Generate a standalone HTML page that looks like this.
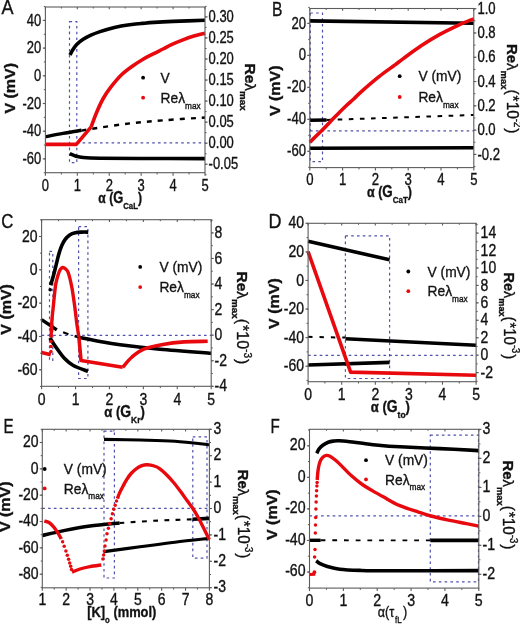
<!DOCTYPE html>
<html><head><meta charset="utf-8"><title>Figure</title>
<style>html,body{margin:0;padding:0;background:#fff;}body{width:520px;height:624px;overflow:hidden;}svg{display:block;} text{stroke:#111;stroke-width:0.35px;paint-order:stroke;}</style>
</head><body>
<svg width="520" height="624" viewBox="0 0 520 624" font-family="'Liberation Sans', Arial, sans-serif">
<rect width="520" height="624" fill="#fff"/>
<rect x="69.5" y="21.6" width="7.3" height="141.1" fill="none" stroke="#5050aa" stroke-width="1.2" stroke-dasharray="2.6 3.2"/>
<line x1="76.8" y1="142.9" x2="205" y2="142.9" stroke="#5050aa" stroke-width="1.2" stroke-dasharray="2.6 3.2"/>
<path d="M45.4,136.7 C48.33,136.15 56.98,134.47 63,133.4 C69.02,132.33 78.42,130.82 81.5,130.3" fill="none" stroke="#000" stroke-width="3.4" stroke-linecap="butt" stroke-linejoin="round"/>
<path d="M81.5,130.6 C84.1,130.17 89.02,129.2 97.1,128 C105.18,126.8 118.68,124.7 130,123.4 C141.32,122.1 152.5,121.18 165,120.2 C177.5,119.22 198.33,117.95 205,117.5" fill="none" stroke="#000" stroke-width="2.4" stroke-dasharray="5 6" stroke-linecap="butt" stroke-linejoin="round"/>
<path d="M70,55 C70.47,54.13 71.68,51.57 72.8,49.8 C73.92,48.03 74.97,46.15 76.7,44.4 C78.43,42.65 80.83,40.85 83.2,39.3 C85.57,37.75 88.1,36.38 90.9,35.1 C93.7,33.82 96.72,32.72 100,31.6 C103.28,30.48 107.07,29.32 110.6,28.4 C114.13,27.48 117.68,26.75 121.2,26.1 C124.72,25.45 128.18,24.95 131.7,24.5 C135.22,24.05 138.58,23.75 142.3,23.4 C146.02,23.05 148.87,22.73 154,22.4 C159.13,22.07 164.6,21.77 173.1,21.4 C181.6,21.03 199.68,20.4 205,20.2" fill="none" stroke="#000" stroke-width="3.6" stroke-linecap="butt" stroke-linejoin="round"/>
<path d="M69.8,153.7 C70.83,154.12 73.75,155.57 76,156.2 C78.25,156.83 79.3,157.17 83.3,157.5 C87.3,157.83 90.55,158.03 100,158.2 C109.45,158.37 122.5,158.43 140,158.5 C157.5,158.57 194.17,158.58 205,158.6" fill="none" stroke="#000" stroke-width="3.6" stroke-linecap="butt" stroke-linejoin="round"/>
<path d="M45.4,144.4 L76.3,144.4 L91.2,126.8" fill="none" stroke="#e8090f" stroke-width="3.6" stroke-linecap="butt" stroke-linejoin="round"/>
<path d="M91.2,126.8 C92.08,124.45 94.5,117.42 96.5,112.7 C98.5,107.98 100.82,102.75 103.2,98.5 C105.58,94.25 107.75,91.15 110.8,87.2 C113.85,83.25 117.92,78.3 121.5,74.8 C125.08,71.3 128.7,68.8 132.3,66.2 C135.9,63.6 139.52,61.3 143.1,59.2 C146.68,57.1 150.48,55.3 153.8,53.6 C157.12,51.9 160.05,50.5 163,49 C165.95,47.5 168.28,46.08 171.5,44.6 C174.72,43.12 178.7,41.48 182.3,40.1 C185.9,38.72 189.32,37.43 193.1,36.3 C196.88,35.17 203.02,33.8 205,33.3" fill="none" stroke="#e8090f" stroke-width="3.6" stroke-linecap="butt" stroke-linejoin="round"/>
<rect x="45.4" y="7" width="159.6" height="165.7" fill="none" stroke="#5c5c5c" stroke-width="1.1"/>
<line x1="45.4" y1="172.7" x2="45.4" y2="175.7" stroke="#5c5c5c" stroke-width="1.1" stroke-linecap="butt"/>
<line x1="45.4" y1="7" x2="45.4" y2="9.2" stroke="#5c5c5c" stroke-width="1.1" stroke-linecap="butt"/>
<line x1="61.36" y1="172.7" x2="61.36" y2="174.5" stroke="#5c5c5c" stroke-width="1" stroke-linecap="butt"/>
<line x1="61.36" y1="7" x2="61.36" y2="8.5" stroke="#5c5c5c" stroke-width="1" stroke-linecap="butt"/>
<line x1="77.32" y1="172.7" x2="77.32" y2="175.7" stroke="#5c5c5c" stroke-width="1.1" stroke-linecap="butt"/>
<line x1="77.32" y1="7" x2="77.32" y2="9.2" stroke="#5c5c5c" stroke-width="1.1" stroke-linecap="butt"/>
<line x1="93.28" y1="172.7" x2="93.28" y2="174.5" stroke="#5c5c5c" stroke-width="1" stroke-linecap="butt"/>
<line x1="93.28" y1="7" x2="93.28" y2="8.5" stroke="#5c5c5c" stroke-width="1" stroke-linecap="butt"/>
<line x1="109.24" y1="172.7" x2="109.24" y2="175.7" stroke="#5c5c5c" stroke-width="1.1" stroke-linecap="butt"/>
<line x1="109.24" y1="7" x2="109.24" y2="9.2" stroke="#5c5c5c" stroke-width="1.1" stroke-linecap="butt"/>
<line x1="125.2" y1="172.7" x2="125.2" y2="174.5" stroke="#5c5c5c" stroke-width="1" stroke-linecap="butt"/>
<line x1="125.2" y1="7" x2="125.2" y2="8.5" stroke="#5c5c5c" stroke-width="1" stroke-linecap="butt"/>
<line x1="141.16" y1="172.7" x2="141.16" y2="175.7" stroke="#5c5c5c" stroke-width="1.1" stroke-linecap="butt"/>
<line x1="141.16" y1="7" x2="141.16" y2="9.2" stroke="#5c5c5c" stroke-width="1.1" stroke-linecap="butt"/>
<line x1="157.12" y1="172.7" x2="157.12" y2="174.5" stroke="#5c5c5c" stroke-width="1" stroke-linecap="butt"/>
<line x1="157.12" y1="7" x2="157.12" y2="8.5" stroke="#5c5c5c" stroke-width="1" stroke-linecap="butt"/>
<line x1="173.08" y1="172.7" x2="173.08" y2="175.7" stroke="#5c5c5c" stroke-width="1.1" stroke-linecap="butt"/>
<line x1="173.08" y1="7" x2="173.08" y2="9.2" stroke="#5c5c5c" stroke-width="1.1" stroke-linecap="butt"/>
<line x1="189.04" y1="172.7" x2="189.04" y2="174.5" stroke="#5c5c5c" stroke-width="1" stroke-linecap="butt"/>
<line x1="189.04" y1="7" x2="189.04" y2="8.5" stroke="#5c5c5c" stroke-width="1" stroke-linecap="butt"/>
<line x1="205" y1="172.7" x2="205" y2="175.7" stroke="#5c5c5c" stroke-width="1.1" stroke-linecap="butt"/>
<line x1="205" y1="7" x2="205" y2="9.2" stroke="#5c5c5c" stroke-width="1.1" stroke-linecap="butt"/>
<line x1="43.8" y1="172.75" x2="45.4" y2="172.75" stroke="#5c5c5c" stroke-width="1" stroke-linecap="butt"/>
<line x1="43.8" y1="158.9" x2="45.4" y2="158.9" stroke="#5c5c5c" stroke-width="1" stroke-linecap="butt"/>
<line x1="43.8" y1="145.05" x2="45.4" y2="145.05" stroke="#5c5c5c" stroke-width="1" stroke-linecap="butt"/>
<line x1="43.8" y1="131.2" x2="45.4" y2="131.2" stroke="#5c5c5c" stroke-width="1" stroke-linecap="butt"/>
<line x1="43.8" y1="117.35" x2="45.4" y2="117.35" stroke="#5c5c5c" stroke-width="1" stroke-linecap="butt"/>
<line x1="43.8" y1="103.5" x2="45.4" y2="103.5" stroke="#5c5c5c" stroke-width="1" stroke-linecap="butt"/>
<line x1="43.8" y1="89.65" x2="45.4" y2="89.65" stroke="#5c5c5c" stroke-width="1" stroke-linecap="butt"/>
<line x1="43.8" y1="75.8" x2="45.4" y2="75.8" stroke="#5c5c5c" stroke-width="1" stroke-linecap="butt"/>
<line x1="43.8" y1="61.95" x2="45.4" y2="61.95" stroke="#5c5c5c" stroke-width="1" stroke-linecap="butt"/>
<line x1="43.8" y1="48.1" x2="45.4" y2="48.1" stroke="#5c5c5c" stroke-width="1" stroke-linecap="butt"/>
<line x1="43.8" y1="34.25" x2="45.4" y2="34.25" stroke="#5c5c5c" stroke-width="1" stroke-linecap="butt"/>
<line x1="43.8" y1="20.4" x2="45.4" y2="20.4" stroke="#5c5c5c" stroke-width="1" stroke-linecap="butt"/>
<line x1="43.8" y1="6.55" x2="45.4" y2="6.55" stroke="#5c5c5c" stroke-width="1" stroke-linecap="butt"/>
<line x1="42.8" y1="158.9" x2="45.4" y2="158.9" stroke="#5c5c5c" stroke-width="1.1" stroke-linecap="butt"/>
<line x1="42.8" y1="131.2" x2="45.4" y2="131.2" stroke="#5c5c5c" stroke-width="1.1" stroke-linecap="butt"/>
<line x1="42.8" y1="103.5" x2="45.4" y2="103.5" stroke="#5c5c5c" stroke-width="1.1" stroke-linecap="butt"/>
<line x1="42.8" y1="75.8" x2="45.4" y2="75.8" stroke="#5c5c5c" stroke-width="1.1" stroke-linecap="butt"/>
<line x1="42.8" y1="48.1" x2="45.4" y2="48.1" stroke="#5c5c5c" stroke-width="1.1" stroke-linecap="butt"/>
<line x1="42.8" y1="20.4" x2="45.4" y2="20.4" stroke="#5c5c5c" stroke-width="1.1" stroke-linecap="butt"/>
<line x1="205" y1="174.77" x2="206.6" y2="174.77" stroke="#5c5c5c" stroke-width="1" stroke-linecap="butt"/>
<line x1="205" y1="164.25" x2="206.6" y2="164.25" stroke="#5c5c5c" stroke-width="1" stroke-linecap="butt"/>
<line x1="205" y1="153.72" x2="206.6" y2="153.72" stroke="#5c5c5c" stroke-width="1" stroke-linecap="butt"/>
<line x1="205" y1="143.2" x2="206.6" y2="143.2" stroke="#5c5c5c" stroke-width="1" stroke-linecap="butt"/>
<line x1="205" y1="132.67" x2="206.6" y2="132.67" stroke="#5c5c5c" stroke-width="1" stroke-linecap="butt"/>
<line x1="205" y1="122.15" x2="206.6" y2="122.15" stroke="#5c5c5c" stroke-width="1" stroke-linecap="butt"/>
<line x1="205" y1="111.62" x2="206.6" y2="111.62" stroke="#5c5c5c" stroke-width="1" stroke-linecap="butt"/>
<line x1="205" y1="101.1" x2="206.6" y2="101.1" stroke="#5c5c5c" stroke-width="1" stroke-linecap="butt"/>
<line x1="205" y1="90.57" x2="206.6" y2="90.57" stroke="#5c5c5c" stroke-width="1" stroke-linecap="butt"/>
<line x1="205" y1="80.05" x2="206.6" y2="80.05" stroke="#5c5c5c" stroke-width="1" stroke-linecap="butt"/>
<line x1="205" y1="69.53" x2="206.6" y2="69.53" stroke="#5c5c5c" stroke-width="1" stroke-linecap="butt"/>
<line x1="205" y1="59" x2="206.6" y2="59" stroke="#5c5c5c" stroke-width="1" stroke-linecap="butt"/>
<line x1="205" y1="48.47" x2="206.6" y2="48.47" stroke="#5c5c5c" stroke-width="1" stroke-linecap="butt"/>
<line x1="205" y1="37.95" x2="206.6" y2="37.95" stroke="#5c5c5c" stroke-width="1" stroke-linecap="butt"/>
<line x1="205" y1="27.42" x2="206.6" y2="27.42" stroke="#5c5c5c" stroke-width="1" stroke-linecap="butt"/>
<line x1="205" y1="16.9" x2="206.6" y2="16.9" stroke="#5c5c5c" stroke-width="1" stroke-linecap="butt"/>
<line x1="205" y1="6.38" x2="206.6" y2="6.38" stroke="#5c5c5c" stroke-width="1" stroke-linecap="butt"/>
<line x1="205" y1="164.25" x2="207.6" y2="164.25" stroke="#5c5c5c" stroke-width="1.1" stroke-linecap="butt"/>
<line x1="205" y1="143.2" x2="207.6" y2="143.2" stroke="#5c5c5c" stroke-width="1.1" stroke-linecap="butt"/>
<line x1="205" y1="122.15" x2="207.6" y2="122.15" stroke="#5c5c5c" stroke-width="1.1" stroke-linecap="butt"/>
<line x1="205" y1="101.1" x2="207.6" y2="101.1" stroke="#5c5c5c" stroke-width="1.1" stroke-linecap="butt"/>
<line x1="205" y1="80.05" x2="207.6" y2="80.05" stroke="#5c5c5c" stroke-width="1.1" stroke-linecap="butt"/>
<line x1="205" y1="59" x2="207.6" y2="59" stroke="#5c5c5c" stroke-width="1.1" stroke-linecap="butt"/>
<line x1="205" y1="37.95" x2="207.6" y2="37.95" stroke="#5c5c5c" stroke-width="1.1" stroke-linecap="butt"/>
<line x1="205" y1="16.9" x2="207.6" y2="16.9" stroke="#5c5c5c" stroke-width="1.1" stroke-linecap="butt"/>
<text transform="translate(41.2,164) scale(0.81,1)" font-size="16" text-anchor="end" font-weight="normal" fill="#111">-60</text>
<text transform="translate(41.2,136.3) scale(0.81,1)" font-size="16" text-anchor="end" font-weight="normal" fill="#111">-40</text>
<text transform="translate(41.2,108.6) scale(0.81,1)" font-size="16" text-anchor="end" font-weight="normal" fill="#111">-20</text>
<text transform="translate(41.2,80.9) scale(0.81,1)" font-size="16" text-anchor="end" font-weight="normal" fill="#111">0</text>
<text transform="translate(41.2,53.2) scale(0.81,1)" font-size="16" text-anchor="end" font-weight="normal" fill="#111">20</text>
<text transform="translate(41.2,25.5) scale(0.81,1)" font-size="16" text-anchor="end" font-weight="normal" fill="#111">40</text>
<text transform="translate(208.6,169.35) scale(0.81,1)" font-size="16" text-anchor="start" font-weight="normal" fill="#111">-0.05</text>
<text transform="translate(208.6,148.3) scale(0.81,1)" font-size="16" text-anchor="start" font-weight="normal" fill="#111">0.00</text>
<text transform="translate(208.6,127.25) scale(0.81,1)" font-size="16" text-anchor="start" font-weight="normal" fill="#111">0.05</text>
<text transform="translate(208.6,106.2) scale(0.81,1)" font-size="16" text-anchor="start" font-weight="normal" fill="#111">0.10</text>
<text transform="translate(208.6,85.15) scale(0.81,1)" font-size="16" text-anchor="start" font-weight="normal" fill="#111">0.15</text>
<text transform="translate(208.6,64.1) scale(0.81,1)" font-size="16" text-anchor="start" font-weight="normal" fill="#111">0.20</text>
<text transform="translate(208.6,43.05) scale(0.81,1)" font-size="16" text-anchor="start" font-weight="normal" fill="#111">0.25</text>
<text transform="translate(208.6,22) scale(0.81,1)" font-size="16" text-anchor="start" font-weight="normal" fill="#111">0.30</text>
<text transform="translate(45.4,190.6) scale(0.81,1)" font-size="16" text-anchor="middle" font-weight="normal" fill="#111">0</text>
<text transform="translate(77.32,190.6) scale(0.81,1)" font-size="16" text-anchor="middle" font-weight="normal" fill="#111">1</text>
<text transform="translate(109.24,190.6) scale(0.81,1)" font-size="16" text-anchor="middle" font-weight="normal" fill="#111">2</text>
<text transform="translate(141.16,190.6) scale(0.81,1)" font-size="16" text-anchor="middle" font-weight="normal" fill="#111">3</text>
<text transform="translate(173.08,190.6) scale(0.81,1)" font-size="16" text-anchor="middle" font-weight="normal" fill="#111">4</text>
<text transform="translate(205,190.6) scale(0.81,1)" font-size="16" text-anchor="middle" font-weight="normal" fill="#111">5</text>
<text transform="translate(1.5,14) scale(0.9,1)" font-size="20" text-anchor="start" font-weight="normal" fill="#111">A</text>
<text transform="translate(15,88.3) scale(0.93,1) rotate(-90)" font-size="16" font-weight="bold" text-anchor="middle" fill="#111">V (mV)</text>
<text transform="translate(245,63.5) scale(1.0,1.0) rotate(90)" font-size="15.5" fill="#111"><tspan font-weight="bold">Re</tspan>&#955;<tspan font-size="9.8" font-weight="bold" dy="5.2">max</tspan></text>
<circle cx="143.1" cy="77.7" r="1.9" fill="#000"/>
<circle cx="143.1" cy="97.7" r="1.9" fill="#e8090f"/>
<text transform="translate(160.5,82.9) scale(0.92,1)" font-size="15" text-anchor="start" font-weight="normal" fill="#111">V</text>
<text transform="translate(160.5,102.9) scale(0.92,1)" font-size="15" fill="#111">Re&#955;<tspan font-size="9" dy="5.6">max</tspan></text>
<text transform="translate(98.3,203.4) scale(0.81,1)" font-size="15" font-weight="bold" fill="#111">&#945; (<tspan font-size="16">G</tspan><tspan font-size="9.6" dy="5.8">CaL</tspan><tspan dy="-5.8">)</tspan></text>
<rect x="310.3" y="13" width="12.2" height="148.6" fill="none" stroke="#5050aa" stroke-width="1.2" stroke-dasharray="2.6 3.2"/>
<line x1="310" y1="130.9" x2="473.8" y2="130.9" stroke="#5050aa" stroke-width="1.2" stroke-dasharray="2.6 3.2"/>
<path d="M309.8,120.2 L326.6,120" fill="none" stroke="#000" stroke-width="3.4" stroke-linecap="butt" stroke-linejoin="round"/>
<path d="M326.6,120 L473.8,115" fill="none" stroke="#000" stroke-width="2.0" stroke-dasharray="4.6 6.5" stroke-linecap="butt" stroke-linejoin="round"/>
<path d="M309.8,20.9 L473.8,23.3" fill="none" stroke="#000" stroke-width="3.6" stroke-linecap="butt" stroke-linejoin="round"/>
<path d="M309.8,148.2 L473.8,147.8" fill="none" stroke="#000" stroke-width="3.6" stroke-linecap="butt" stroke-linejoin="round"/>
<path d="M309.8,142.2 C311.88,140.18 318.3,134.12 322.3,130.1 C326.3,126.08 329.95,122.03 333.8,118.1 C337.65,114.17 342.03,109.72 345.4,106.5 C348.77,103.28 351.38,101.25 354,98.8 C356.62,96.35 356.93,95.5 361.1,91.8 C365.27,88.1 373.35,81.08 379,76.6 C384.65,72.12 390.95,67.9 395,64.9 C399.05,61.9 398.88,61.82 403.3,58.6 C407.72,55.38 415.42,49.63 421.5,45.6 C427.58,41.57 433.7,37.78 439.8,34.4 C445.9,31.02 452.43,27.9 458.1,25.3 C463.77,22.7 471.18,19.88 473.8,18.8" fill="none" stroke="#e8090f" stroke-width="3.6" stroke-linecap="butt" stroke-linejoin="round"/>
<rect x="309.8" y="8.5" width="164" height="159.1" fill="none" stroke="#5c5c5c" stroke-width="1.1"/>
<line x1="309.8" y1="167.6" x2="309.8" y2="170.6" stroke="#5c5c5c" stroke-width="1.1" stroke-linecap="butt"/>
<line x1="309.8" y1="8.5" x2="309.8" y2="10.7" stroke="#5c5c5c" stroke-width="1.1" stroke-linecap="butt"/>
<line x1="326.2" y1="167.6" x2="326.2" y2="169.4" stroke="#5c5c5c" stroke-width="1" stroke-linecap="butt"/>
<line x1="326.2" y1="8.5" x2="326.2" y2="10" stroke="#5c5c5c" stroke-width="1" stroke-linecap="butt"/>
<line x1="342.6" y1="167.6" x2="342.6" y2="170.6" stroke="#5c5c5c" stroke-width="1.1" stroke-linecap="butt"/>
<line x1="342.6" y1="8.5" x2="342.6" y2="10.7" stroke="#5c5c5c" stroke-width="1.1" stroke-linecap="butt"/>
<line x1="359" y1="167.6" x2="359" y2="169.4" stroke="#5c5c5c" stroke-width="1" stroke-linecap="butt"/>
<line x1="359" y1="8.5" x2="359" y2="10" stroke="#5c5c5c" stroke-width="1" stroke-linecap="butt"/>
<line x1="375.4" y1="167.6" x2="375.4" y2="170.6" stroke="#5c5c5c" stroke-width="1.1" stroke-linecap="butt"/>
<line x1="375.4" y1="8.5" x2="375.4" y2="10.7" stroke="#5c5c5c" stroke-width="1.1" stroke-linecap="butt"/>
<line x1="391.8" y1="167.6" x2="391.8" y2="169.4" stroke="#5c5c5c" stroke-width="1" stroke-linecap="butt"/>
<line x1="391.8" y1="8.5" x2="391.8" y2="10" stroke="#5c5c5c" stroke-width="1" stroke-linecap="butt"/>
<line x1="408.2" y1="167.6" x2="408.2" y2="170.6" stroke="#5c5c5c" stroke-width="1.1" stroke-linecap="butt"/>
<line x1="408.2" y1="8.5" x2="408.2" y2="10.7" stroke="#5c5c5c" stroke-width="1.1" stroke-linecap="butt"/>
<line x1="424.6" y1="167.6" x2="424.6" y2="169.4" stroke="#5c5c5c" stroke-width="1" stroke-linecap="butt"/>
<line x1="424.6" y1="8.5" x2="424.6" y2="10" stroke="#5c5c5c" stroke-width="1" stroke-linecap="butt"/>
<line x1="441" y1="167.6" x2="441" y2="170.6" stroke="#5c5c5c" stroke-width="1.1" stroke-linecap="butt"/>
<line x1="441" y1="8.5" x2="441" y2="10.7" stroke="#5c5c5c" stroke-width="1.1" stroke-linecap="butt"/>
<line x1="457.4" y1="167.6" x2="457.4" y2="169.4" stroke="#5c5c5c" stroke-width="1" stroke-linecap="butt"/>
<line x1="457.4" y1="8.5" x2="457.4" y2="10" stroke="#5c5c5c" stroke-width="1" stroke-linecap="butt"/>
<line x1="473.8" y1="167.6" x2="473.8" y2="170.6" stroke="#5c5c5c" stroke-width="1.1" stroke-linecap="butt"/>
<line x1="473.8" y1="8.5" x2="473.8" y2="10.7" stroke="#5c5c5c" stroke-width="1.1" stroke-linecap="butt"/>
<line x1="308.2" y1="167.29" x2="309.8" y2="167.29" stroke="#5c5c5c" stroke-width="1" stroke-linecap="butt"/>
<line x1="308.2" y1="151.3" x2="309.8" y2="151.3" stroke="#5c5c5c" stroke-width="1" stroke-linecap="butt"/>
<line x1="308.2" y1="135.31" x2="309.8" y2="135.31" stroke="#5c5c5c" stroke-width="1" stroke-linecap="butt"/>
<line x1="308.2" y1="119.33" x2="309.8" y2="119.33" stroke="#5c5c5c" stroke-width="1" stroke-linecap="butt"/>
<line x1="308.2" y1="103.34" x2="309.8" y2="103.34" stroke="#5c5c5c" stroke-width="1" stroke-linecap="butt"/>
<line x1="308.2" y1="87.35" x2="309.8" y2="87.35" stroke="#5c5c5c" stroke-width="1" stroke-linecap="butt"/>
<line x1="308.2" y1="71.36" x2="309.8" y2="71.36" stroke="#5c5c5c" stroke-width="1" stroke-linecap="butt"/>
<line x1="308.2" y1="55.38" x2="309.8" y2="55.38" stroke="#5c5c5c" stroke-width="1" stroke-linecap="butt"/>
<line x1="308.2" y1="39.39" x2="309.8" y2="39.39" stroke="#5c5c5c" stroke-width="1" stroke-linecap="butt"/>
<line x1="308.2" y1="23.4" x2="309.8" y2="23.4" stroke="#5c5c5c" stroke-width="1" stroke-linecap="butt"/>
<line x1="308.2" y1="7.41" x2="309.8" y2="7.41" stroke="#5c5c5c" stroke-width="1" stroke-linecap="butt"/>
<line x1="307.2" y1="151.3" x2="309.8" y2="151.3" stroke="#5c5c5c" stroke-width="1.1" stroke-linecap="butt"/>
<line x1="307.2" y1="119.33" x2="309.8" y2="119.33" stroke="#5c5c5c" stroke-width="1.1" stroke-linecap="butt"/>
<line x1="307.2" y1="87.35" x2="309.8" y2="87.35" stroke="#5c5c5c" stroke-width="1.1" stroke-linecap="butt"/>
<line x1="307.2" y1="55.38" x2="309.8" y2="55.38" stroke="#5c5c5c" stroke-width="1.1" stroke-linecap="butt"/>
<line x1="307.2" y1="23.4" x2="309.8" y2="23.4" stroke="#5c5c5c" stroke-width="1.1" stroke-linecap="butt"/>
<line x1="473.8" y1="166.54" x2="475.4" y2="166.54" stroke="#5c5c5c" stroke-width="1" stroke-linecap="butt"/>
<line x1="473.8" y1="154.4" x2="475.4" y2="154.4" stroke="#5c5c5c" stroke-width="1" stroke-linecap="butt"/>
<line x1="473.8" y1="142.26" x2="475.4" y2="142.26" stroke="#5c5c5c" stroke-width="1" stroke-linecap="butt"/>
<line x1="473.8" y1="130.12" x2="475.4" y2="130.12" stroke="#5c5c5c" stroke-width="1" stroke-linecap="butt"/>
<line x1="473.8" y1="117.98" x2="475.4" y2="117.98" stroke="#5c5c5c" stroke-width="1" stroke-linecap="butt"/>
<line x1="473.8" y1="105.83" x2="475.4" y2="105.83" stroke="#5c5c5c" stroke-width="1" stroke-linecap="butt"/>
<line x1="473.8" y1="93.69" x2="475.4" y2="93.69" stroke="#5c5c5c" stroke-width="1" stroke-linecap="butt"/>
<line x1="473.8" y1="81.55" x2="475.4" y2="81.55" stroke="#5c5c5c" stroke-width="1" stroke-linecap="butt"/>
<line x1="473.8" y1="69.41" x2="475.4" y2="69.41" stroke="#5c5c5c" stroke-width="1" stroke-linecap="butt"/>
<line x1="473.8" y1="57.27" x2="475.4" y2="57.27" stroke="#5c5c5c" stroke-width="1" stroke-linecap="butt"/>
<line x1="473.8" y1="45.13" x2="475.4" y2="45.13" stroke="#5c5c5c" stroke-width="1" stroke-linecap="butt"/>
<line x1="473.8" y1="32.98" x2="475.4" y2="32.98" stroke="#5c5c5c" stroke-width="1" stroke-linecap="butt"/>
<line x1="473.8" y1="20.84" x2="475.4" y2="20.84" stroke="#5c5c5c" stroke-width="1" stroke-linecap="butt"/>
<line x1="473.8" y1="8.7" x2="475.4" y2="8.7" stroke="#5c5c5c" stroke-width="1" stroke-linecap="butt"/>
<line x1="473.8" y1="154.4" x2="476.4" y2="154.4" stroke="#5c5c5c" stroke-width="1.1" stroke-linecap="butt"/>
<line x1="473.8" y1="130.12" x2="476.4" y2="130.12" stroke="#5c5c5c" stroke-width="1.1" stroke-linecap="butt"/>
<line x1="473.8" y1="105.83" x2="476.4" y2="105.83" stroke="#5c5c5c" stroke-width="1.1" stroke-linecap="butt"/>
<line x1="473.8" y1="81.55" x2="476.4" y2="81.55" stroke="#5c5c5c" stroke-width="1.1" stroke-linecap="butt"/>
<line x1="473.8" y1="57.27" x2="476.4" y2="57.27" stroke="#5c5c5c" stroke-width="1.1" stroke-linecap="butt"/>
<line x1="473.8" y1="32.98" x2="476.4" y2="32.98" stroke="#5c5c5c" stroke-width="1.1" stroke-linecap="butt"/>
<line x1="473.8" y1="8.7" x2="476.4" y2="8.7" stroke="#5c5c5c" stroke-width="1.1" stroke-linecap="butt"/>
<text transform="translate(306,156.4) scale(0.82,1)" font-size="16" text-anchor="end" font-weight="normal" fill="#111">-60</text>
<text transform="translate(306,124.43) scale(0.82,1)" font-size="16" text-anchor="end" font-weight="normal" fill="#111">-40</text>
<text transform="translate(306,92.45) scale(0.82,1)" font-size="16" text-anchor="end" font-weight="normal" fill="#111">-20</text>
<text transform="translate(306,60.48) scale(0.82,1)" font-size="16" text-anchor="end" font-weight="normal" fill="#111">0</text>
<text transform="translate(306,28.5) scale(0.82,1)" font-size="16" text-anchor="end" font-weight="normal" fill="#111">20</text>
<text transform="translate(477.4,159.5) scale(0.82,1)" font-size="16" text-anchor="start" font-weight="normal" fill="#111">-0.2</text>
<text transform="translate(477.4,135.22) scale(0.82,1)" font-size="16" text-anchor="start" font-weight="normal" fill="#111">0.0</text>
<text transform="translate(477.4,110.93) scale(0.82,1)" font-size="16" text-anchor="start" font-weight="normal" fill="#111">0.2</text>
<text transform="translate(477.4,86.65) scale(0.82,1)" font-size="16" text-anchor="start" font-weight="normal" fill="#111">0.4</text>
<text transform="translate(477.4,62.37) scale(0.82,1)" font-size="16" text-anchor="start" font-weight="normal" fill="#111">0.6</text>
<text transform="translate(477.4,38.08) scale(0.82,1)" font-size="16" text-anchor="start" font-weight="normal" fill="#111">0.8</text>
<text transform="translate(477.4,13.8) scale(0.82,1)" font-size="16" text-anchor="start" font-weight="normal" fill="#111">1.0</text>
<text transform="translate(309.8,184.6) scale(0.82,1)" font-size="16" text-anchor="middle" font-weight="normal" fill="#111">0</text>
<text transform="translate(342.6,184.6) scale(0.82,1)" font-size="16" text-anchor="middle" font-weight="normal" fill="#111">1</text>
<text transform="translate(375.4,184.6) scale(0.82,1)" font-size="16" text-anchor="middle" font-weight="normal" fill="#111">2</text>
<text transform="translate(408.2,184.6) scale(0.82,1)" font-size="16" text-anchor="middle" font-weight="normal" fill="#111">3</text>
<text transform="translate(441,184.6) scale(0.82,1)" font-size="16" text-anchor="middle" font-weight="normal" fill="#111">4</text>
<text transform="translate(473.8,184.6) scale(0.82,1)" font-size="16" text-anchor="middle" font-weight="normal" fill="#111">5</text>
<text transform="translate(272,15.6) scale(0.78,1)" font-size="20" text-anchor="start" font-weight="normal" fill="#111">B</text>
<text transform="translate(280.2,90.8) scale(0.93,1) rotate(-90)" font-size="16" font-weight="bold" text-anchor="middle" fill="#111">V (mV)</text>
<text transform="translate(506.6,44) scale(1.0,0.965) rotate(90)" font-size="15.5" fill="#111"><tspan font-weight="bold">Re</tspan>&#955;<tspan font-size="9.8" font-weight="bold" dy="5.2">max</tspan><tspan font-size="16" dy="-5.2">(<tspan dx="1">*</tspan>10</tspan><tspan font-size="10" dy="-7.2">-2</tspan><tspan font-size="16" dx="1" dy="7.2">)</tspan></text>
<circle cx="399.7" cy="76.2" r="1.9" fill="#000"/>
<circle cx="399.7" cy="97" r="1.9" fill="#e8090f"/>
<text transform="translate(418.4,81.4) scale(0.92,1)" font-size="15" text-anchor="start" font-weight="normal" fill="#111">V (mV)</text>
<text transform="translate(418.4,102.2) scale(0.92,1)" font-size="15" fill="#111">Re&#955;<tspan font-size="9" dy="5.6">max</tspan></text>
<text transform="translate(367,196.8) scale(0.835,1)" font-size="15" font-weight="bold" fill="#111">&#945; (<tspan font-size="16">G</tspan><tspan font-size="9.6" dy="5.8">CaT</tspan><tspan dy="-5.8">)</tspan></text>
<rect x="49.5" y="251.4" width="3.3" height="108.9" fill="none" stroke="#5050aa" stroke-width="1.2" stroke-dasharray="2.6 3.2"/>
<rect x="78.6" y="226.7" width="9.3" height="151.8" fill="none" stroke="#5050aa" stroke-width="1.2" stroke-dasharray="2.6 3.2"/>
<line x1="41.6" y1="335.4" x2="211.2" y2="335.4" stroke="#5050aa" stroke-width="1.2" stroke-dasharray="2.6 3.2"/>
<path d="M41.6,319.6 L56.8,329.9" fill="none" stroke="#000" stroke-width="3.4" stroke-linecap="butt" stroke-linejoin="round"/>
<path d="M63.1,332.3 L68.4,334.2" fill="none" stroke="#000" stroke-width="2.2" stroke-linecap="butt" stroke-linejoin="round"/>
<path d="M74.6,336 L79.5,337.4" fill="none" stroke="#000" stroke-width="2.6" stroke-linecap="butt" stroke-linejoin="round"/>
<path d="M79.5,337.4 C82.92,338.08 93.25,340.28 100,341.5 C106.75,342.72 110,343.42 120,344.7 C130,345.98 144.8,347.77 160,349.2 C175.2,350.63 202.67,352.62 211.2,353.3" fill="none" stroke="#000" stroke-width="3.6" stroke-linecap="butt" stroke-linejoin="round"/>
<circle cx="50.2" cy="289.8" r="1.8" fill="#000"/>
<path d="M50.6,285.3 C51.07,283.72 52.47,279.25 53.4,275.8 C54.33,272.35 55.27,268.33 56.2,264.6 C57.13,260.87 58.07,256.58 59,253.4 C59.93,250.22 60.77,247.83 61.8,245.5 C62.83,243.17 63.88,241.17 65.2,239.4 C66.52,237.63 68.02,236.02 69.7,234.9 C71.38,233.78 73.25,233.17 75.3,232.7 C77.35,232.23 79.85,232.2 82,232.1 C84.15,232 87.17,232.1 88.2,232.1" fill="none" stroke="#000" stroke-width="3.6" stroke-linecap="butt" stroke-linejoin="round"/>
<path d="M49.9,337.8 C50.92,339.38 53.55,343.83 56,347.3 C58.45,350.77 61.72,355.57 64.6,358.6 C67.48,361.63 69.4,363.38 73.3,365.5 C77.2,367.62 85.55,370.33 88,371.3" fill="none" stroke="#000" stroke-width="3.6" stroke-linecap="butt" stroke-linejoin="round"/>
<path d="M41.6,352.5 L50.8,354.7" fill="none" stroke="#e8090f" stroke-width="3.6" stroke-linecap="butt" stroke-linejoin="round"/>
<circle cx="51" cy="351.5" r="1.7" fill="#e8090f"/>
<circle cx="51" cy="346.5" r="1.7" fill="#e8090f"/>
<circle cx="51" cy="341.5" r="1.7" fill="#e8090f"/>
<path d="M51.1,337.5 C51.17,335.78 51.32,330.62 51.5,327.2 C51.68,323.78 51.88,320.62 52.2,317 C52.52,313.38 53.03,309.1 53.4,305.5 C53.77,301.9 54,299 54.4,295.4 C54.8,291.8 55.2,287.27 55.8,283.9 C56.4,280.53 57.27,277.58 58,275.2 C58.73,272.82 59.43,270.88 60.2,269.6 C60.97,268.32 61.77,267.67 62.6,267.5 C63.43,267.33 64.28,267.8 65.2,268.6 C66.12,269.4 67.02,269.28 68.1,272.3 C69.18,275.32 70.62,281.17 71.7,286.7 C72.78,292.23 73.77,299.48 74.6,305.5 C75.43,311.52 75.98,317.5 76.7,322.8 C77.42,328.1 78.53,334.88 78.9,337.3" fill="none" stroke="#e8090f" stroke-width="3.4" stroke-linecap="butt" stroke-linejoin="round"/>
<path d="M78.9,337.3 L81,360.5 L122.7,367.3" fill="none" stroke="#e8090f" stroke-width="3.6" stroke-linecap="butt" stroke-linejoin="round"/>
<path d="M122.7,367.3 C124.25,365.58 128.48,360.03 132,357 C135.52,353.97 138.65,351.2 143.8,349.1 C148.95,347 156.2,345.6 162.9,344.4 C169.6,343.2 176.53,342.42 184,341.9 C191.47,341.38 203.75,341.4 207.7,341.3" fill="none" stroke="#e8090f" stroke-width="3.6" stroke-linecap="butt" stroke-linejoin="round"/>
<rect x="41.6" y="219.7" width="169.6" height="166.6" fill="none" stroke="#5c5c5c" stroke-width="1.1"/>
<line x1="41.6" y1="386.3" x2="41.6" y2="389.3" stroke="#5c5c5c" stroke-width="1.1" stroke-linecap="butt"/>
<line x1="41.6" y1="219.7" x2="41.6" y2="221.9" stroke="#5c5c5c" stroke-width="1.1" stroke-linecap="butt"/>
<line x1="58.56" y1="386.3" x2="58.56" y2="388.1" stroke="#5c5c5c" stroke-width="1" stroke-linecap="butt"/>
<line x1="58.56" y1="219.7" x2="58.56" y2="221.2" stroke="#5c5c5c" stroke-width="1" stroke-linecap="butt"/>
<line x1="75.52" y1="386.3" x2="75.52" y2="389.3" stroke="#5c5c5c" stroke-width="1.1" stroke-linecap="butt"/>
<line x1="75.52" y1="219.7" x2="75.52" y2="221.9" stroke="#5c5c5c" stroke-width="1.1" stroke-linecap="butt"/>
<line x1="92.48" y1="386.3" x2="92.48" y2="388.1" stroke="#5c5c5c" stroke-width="1" stroke-linecap="butt"/>
<line x1="92.48" y1="219.7" x2="92.48" y2="221.2" stroke="#5c5c5c" stroke-width="1" stroke-linecap="butt"/>
<line x1="109.44" y1="386.3" x2="109.44" y2="389.3" stroke="#5c5c5c" stroke-width="1.1" stroke-linecap="butt"/>
<line x1="109.44" y1="219.7" x2="109.44" y2="221.9" stroke="#5c5c5c" stroke-width="1.1" stroke-linecap="butt"/>
<line x1="126.4" y1="386.3" x2="126.4" y2="388.1" stroke="#5c5c5c" stroke-width="1" stroke-linecap="butt"/>
<line x1="126.4" y1="219.7" x2="126.4" y2="221.2" stroke="#5c5c5c" stroke-width="1" stroke-linecap="butt"/>
<line x1="143.36" y1="386.3" x2="143.36" y2="389.3" stroke="#5c5c5c" stroke-width="1.1" stroke-linecap="butt"/>
<line x1="143.36" y1="219.7" x2="143.36" y2="221.9" stroke="#5c5c5c" stroke-width="1.1" stroke-linecap="butt"/>
<line x1="160.32" y1="386.3" x2="160.32" y2="388.1" stroke="#5c5c5c" stroke-width="1" stroke-linecap="butt"/>
<line x1="160.32" y1="219.7" x2="160.32" y2="221.2" stroke="#5c5c5c" stroke-width="1" stroke-linecap="butt"/>
<line x1="177.28" y1="386.3" x2="177.28" y2="389.3" stroke="#5c5c5c" stroke-width="1.1" stroke-linecap="butt"/>
<line x1="177.28" y1="219.7" x2="177.28" y2="221.9" stroke="#5c5c5c" stroke-width="1.1" stroke-linecap="butt"/>
<line x1="194.24" y1="386.3" x2="194.24" y2="388.1" stroke="#5c5c5c" stroke-width="1" stroke-linecap="butt"/>
<line x1="194.24" y1="219.7" x2="194.24" y2="221.2" stroke="#5c5c5c" stroke-width="1" stroke-linecap="butt"/>
<line x1="211.2" y1="386.3" x2="211.2" y2="389.3" stroke="#5c5c5c" stroke-width="1.1" stroke-linecap="butt"/>
<line x1="211.2" y1="219.7" x2="211.2" y2="221.9" stroke="#5c5c5c" stroke-width="1.1" stroke-linecap="butt"/>
<line x1="40" y1="386.46" x2="41.6" y2="386.46" stroke="#5c5c5c" stroke-width="1" stroke-linecap="butt"/>
<line x1="40" y1="369.8" x2="41.6" y2="369.8" stroke="#5c5c5c" stroke-width="1" stroke-linecap="butt"/>
<line x1="40" y1="353.14" x2="41.6" y2="353.14" stroke="#5c5c5c" stroke-width="1" stroke-linecap="butt"/>
<line x1="40" y1="336.48" x2="41.6" y2="336.48" stroke="#5c5c5c" stroke-width="1" stroke-linecap="butt"/>
<line x1="40" y1="319.81" x2="41.6" y2="319.81" stroke="#5c5c5c" stroke-width="1" stroke-linecap="butt"/>
<line x1="40" y1="303.15" x2="41.6" y2="303.15" stroke="#5c5c5c" stroke-width="1" stroke-linecap="butt"/>
<line x1="40" y1="286.49" x2="41.6" y2="286.49" stroke="#5c5c5c" stroke-width="1" stroke-linecap="butt"/>
<line x1="40" y1="269.82" x2="41.6" y2="269.82" stroke="#5c5c5c" stroke-width="1" stroke-linecap="butt"/>
<line x1="40" y1="253.16" x2="41.6" y2="253.16" stroke="#5c5c5c" stroke-width="1" stroke-linecap="butt"/>
<line x1="40" y1="236.5" x2="41.6" y2="236.5" stroke="#5c5c5c" stroke-width="1" stroke-linecap="butt"/>
<line x1="40" y1="219.84" x2="41.6" y2="219.84" stroke="#5c5c5c" stroke-width="1" stroke-linecap="butt"/>
<line x1="39" y1="369.8" x2="41.6" y2="369.8" stroke="#5c5c5c" stroke-width="1.1" stroke-linecap="butt"/>
<line x1="39" y1="336.48" x2="41.6" y2="336.48" stroke="#5c5c5c" stroke-width="1.1" stroke-linecap="butt"/>
<line x1="39" y1="303.15" x2="41.6" y2="303.15" stroke="#5c5c5c" stroke-width="1.1" stroke-linecap="butt"/>
<line x1="39" y1="269.82" x2="41.6" y2="269.82" stroke="#5c5c5c" stroke-width="1.1" stroke-linecap="butt"/>
<line x1="39" y1="236.5" x2="41.6" y2="236.5" stroke="#5c5c5c" stroke-width="1.1" stroke-linecap="butt"/>
<line x1="211.2" y1="386.3" x2="212.8" y2="386.3" stroke="#5c5c5c" stroke-width="1" stroke-linecap="butt"/>
<line x1="211.2" y1="373.52" x2="212.8" y2="373.52" stroke="#5c5c5c" stroke-width="1" stroke-linecap="butt"/>
<line x1="211.2" y1="360.73" x2="212.8" y2="360.73" stroke="#5c5c5c" stroke-width="1" stroke-linecap="butt"/>
<line x1="211.2" y1="347.95" x2="212.8" y2="347.95" stroke="#5c5c5c" stroke-width="1" stroke-linecap="butt"/>
<line x1="211.2" y1="335.17" x2="212.8" y2="335.17" stroke="#5c5c5c" stroke-width="1" stroke-linecap="butt"/>
<line x1="211.2" y1="322.38" x2="212.8" y2="322.38" stroke="#5c5c5c" stroke-width="1" stroke-linecap="butt"/>
<line x1="211.2" y1="309.6" x2="212.8" y2="309.6" stroke="#5c5c5c" stroke-width="1" stroke-linecap="butt"/>
<line x1="211.2" y1="296.82" x2="212.8" y2="296.82" stroke="#5c5c5c" stroke-width="1" stroke-linecap="butt"/>
<line x1="211.2" y1="284.03" x2="212.8" y2="284.03" stroke="#5c5c5c" stroke-width="1" stroke-linecap="butt"/>
<line x1="211.2" y1="271.25" x2="212.8" y2="271.25" stroke="#5c5c5c" stroke-width="1" stroke-linecap="butt"/>
<line x1="211.2" y1="258.47" x2="212.8" y2="258.47" stroke="#5c5c5c" stroke-width="1" stroke-linecap="butt"/>
<line x1="211.2" y1="245.68" x2="212.8" y2="245.68" stroke="#5c5c5c" stroke-width="1" stroke-linecap="butt"/>
<line x1="211.2" y1="232.9" x2="212.8" y2="232.9" stroke="#5c5c5c" stroke-width="1" stroke-linecap="butt"/>
<line x1="211.2" y1="220.12" x2="212.8" y2="220.12" stroke="#5c5c5c" stroke-width="1" stroke-linecap="butt"/>
<line x1="211.2" y1="386.3" x2="213.8" y2="386.3" stroke="#5c5c5c" stroke-width="1.1" stroke-linecap="butt"/>
<line x1="211.2" y1="360.73" x2="213.8" y2="360.73" stroke="#5c5c5c" stroke-width="1.1" stroke-linecap="butt"/>
<line x1="211.2" y1="335.17" x2="213.8" y2="335.17" stroke="#5c5c5c" stroke-width="1.1" stroke-linecap="butt"/>
<line x1="211.2" y1="309.6" x2="213.8" y2="309.6" stroke="#5c5c5c" stroke-width="1.1" stroke-linecap="butt"/>
<line x1="211.2" y1="284.03" x2="213.8" y2="284.03" stroke="#5c5c5c" stroke-width="1.1" stroke-linecap="butt"/>
<line x1="211.2" y1="258.47" x2="213.8" y2="258.47" stroke="#5c5c5c" stroke-width="1.1" stroke-linecap="butt"/>
<line x1="211.2" y1="232.9" x2="213.8" y2="232.9" stroke="#5c5c5c" stroke-width="1.1" stroke-linecap="butt"/>
<text transform="translate(37.6,374.9) scale(0.875,1)" font-size="16" text-anchor="end" font-weight="normal" fill="#111">-60</text>
<text transform="translate(37.6,341.58) scale(0.875,1)" font-size="16" text-anchor="end" font-weight="normal" fill="#111">-40</text>
<text transform="translate(37.6,308.25) scale(0.875,1)" font-size="16" text-anchor="end" font-weight="normal" fill="#111">-20</text>
<text transform="translate(37.6,274.93) scale(0.875,1)" font-size="16" text-anchor="end" font-weight="normal" fill="#111">0</text>
<text transform="translate(37.6,241.6) scale(0.875,1)" font-size="16" text-anchor="end" font-weight="normal" fill="#111">20</text>
<text transform="translate(214.6,391.4) scale(0.875,1)" font-size="16" text-anchor="start" font-weight="normal" fill="#111">-4</text>
<text transform="translate(214.6,365.83) scale(0.875,1)" font-size="16" text-anchor="start" font-weight="normal" fill="#111">-2</text>
<text transform="translate(214.6,340.27) scale(0.875,1)" font-size="16" text-anchor="start" font-weight="normal" fill="#111">0</text>
<text transform="translate(214.6,314.7) scale(0.875,1)" font-size="16" text-anchor="start" font-weight="normal" fill="#111">2</text>
<text transform="translate(214.6,289.13) scale(0.875,1)" font-size="16" text-anchor="start" font-weight="normal" fill="#111">4</text>
<text transform="translate(214.6,263.57) scale(0.875,1)" font-size="16" text-anchor="start" font-weight="normal" fill="#111">6</text>
<text transform="translate(214.6,238) scale(0.875,1)" font-size="16" text-anchor="start" font-weight="normal" fill="#111">8</text>
<text transform="translate(41.6,404.6) scale(0.875,1)" font-size="16" text-anchor="middle" font-weight="normal" fill="#111">0</text>
<text transform="translate(75.52,404.6) scale(0.875,1)" font-size="16" text-anchor="middle" font-weight="normal" fill="#111">1</text>
<text transform="translate(109.44,404.6) scale(0.875,1)" font-size="16" text-anchor="middle" font-weight="normal" fill="#111">2</text>
<text transform="translate(143.36,404.6) scale(0.875,1)" font-size="16" text-anchor="middle" font-weight="normal" fill="#111">3</text>
<text transform="translate(177.28,404.6) scale(0.875,1)" font-size="16" text-anchor="middle" font-weight="normal" fill="#111">4</text>
<text transform="translate(211.2,404.6) scale(0.875,1)" font-size="16" text-anchor="middle" font-weight="normal" fill="#111">5</text>
<text transform="translate(1.3,227.6) scale(0.84,1)" font-size="20" text-anchor="start" font-weight="normal" fill="#111">C</text>
<text transform="translate(10.5,309.4) scale(0.93,1) rotate(-90)" font-size="16" font-weight="bold" text-anchor="middle" fill="#111">V (mV)</text>
<text transform="translate(237.3,271.5) scale(1.0,1.0) rotate(90)" font-size="15.5" fill="#111"><tspan font-weight="bold">Re</tspan>&#955;<tspan font-size="9.8" font-weight="bold" dy="5.2">max</tspan><tspan font-size="16" dy="-5.2">(<tspan dx="1">*</tspan>10</tspan><tspan font-size="10" dy="-7.2">-3</tspan><tspan font-size="16" dx="1" dy="7.2">)</tspan></text>
<circle cx="140.2" cy="266.9" r="1.9" fill="#000"/>
<circle cx="140.2" cy="287.1" r="1.9" fill="#e8090f"/>
<text transform="translate(159.4,272.1) scale(0.92,1)" font-size="15" text-anchor="start" font-weight="normal" fill="#111">V (mV)</text>
<text transform="translate(159.4,292.3) scale(0.92,1)" font-size="15" fill="#111">Re&#955;<tspan font-size="9" dy="5.6">max</tspan></text>
<text transform="translate(104.3,417.2) scale(0.87,1)" font-size="15" font-weight="bold" fill="#111">&#945; (<tspan font-size="16">G</tspan><tspan font-size="9.6" dy="5.8">Kr</tspan><tspan dy="-5.8">)</tspan></text>
<rect x="345.4" y="235.8" width="44.2" height="142.7" fill="none" stroke="#5050aa" stroke-width="1.2" stroke-dasharray="2.6 3.2"/>
<line x1="308.1" y1="355.3" x2="476.1" y2="355.3" stroke="#5050aa" stroke-width="1.2" stroke-dasharray="2.6 3.2"/>
<path d="M308.1,241.3 L389.6,259.8" fill="none" stroke="#000" stroke-width="3.6" stroke-linecap="butt" stroke-linejoin="round"/>
<path d="M308.1,336.8 L345.4,337.6" fill="none" stroke="#000" stroke-width="2.0" stroke-dasharray="4.4 7" stroke-linecap="butt" stroke-linejoin="round"/>
<path d="M345.4,338.7 L476.1,345.2" fill="none" stroke="#000" stroke-width="3.6" stroke-linecap="butt" stroke-linejoin="round"/>
<path d="M308.1,365 L389.6,362.4" fill="none" stroke="#000" stroke-width="3.6" stroke-linecap="butt" stroke-linejoin="round"/>
<path d="M308.1,251.7 L350.6,372.1 L476.1,375.3" fill="none" stroke="#e8090f" stroke-width="3.6" stroke-linecap="butt" stroke-linejoin="round"/>
<rect x="308.1" y="223.3" width="168" height="158.4" fill="none" stroke="#5c5c5c" stroke-width="1.1"/>
<line x1="308.1" y1="381.7" x2="308.1" y2="384.7" stroke="#5c5c5c" stroke-width="1.1" stroke-linecap="butt"/>
<line x1="308.1" y1="223.3" x2="308.1" y2="225.5" stroke="#5c5c5c" stroke-width="1.1" stroke-linecap="butt"/>
<line x1="324.9" y1="381.7" x2="324.9" y2="383.5" stroke="#5c5c5c" stroke-width="1" stroke-linecap="butt"/>
<line x1="324.9" y1="223.3" x2="324.9" y2="224.8" stroke="#5c5c5c" stroke-width="1" stroke-linecap="butt"/>
<line x1="341.7" y1="381.7" x2="341.7" y2="384.7" stroke="#5c5c5c" stroke-width="1.1" stroke-linecap="butt"/>
<line x1="341.7" y1="223.3" x2="341.7" y2="225.5" stroke="#5c5c5c" stroke-width="1.1" stroke-linecap="butt"/>
<line x1="358.5" y1="381.7" x2="358.5" y2="383.5" stroke="#5c5c5c" stroke-width="1" stroke-linecap="butt"/>
<line x1="358.5" y1="223.3" x2="358.5" y2="224.8" stroke="#5c5c5c" stroke-width="1" stroke-linecap="butt"/>
<line x1="375.3" y1="381.7" x2="375.3" y2="384.7" stroke="#5c5c5c" stroke-width="1.1" stroke-linecap="butt"/>
<line x1="375.3" y1="223.3" x2="375.3" y2="225.5" stroke="#5c5c5c" stroke-width="1.1" stroke-linecap="butt"/>
<line x1="392.1" y1="381.7" x2="392.1" y2="383.5" stroke="#5c5c5c" stroke-width="1" stroke-linecap="butt"/>
<line x1="392.1" y1="223.3" x2="392.1" y2="224.8" stroke="#5c5c5c" stroke-width="1" stroke-linecap="butt"/>
<line x1="408.9" y1="381.7" x2="408.9" y2="384.7" stroke="#5c5c5c" stroke-width="1.1" stroke-linecap="butt"/>
<line x1="408.9" y1="223.3" x2="408.9" y2="225.5" stroke="#5c5c5c" stroke-width="1.1" stroke-linecap="butt"/>
<line x1="425.7" y1="381.7" x2="425.7" y2="383.5" stroke="#5c5c5c" stroke-width="1" stroke-linecap="butt"/>
<line x1="425.7" y1="223.3" x2="425.7" y2="224.8" stroke="#5c5c5c" stroke-width="1" stroke-linecap="butt"/>
<line x1="442.5" y1="381.7" x2="442.5" y2="384.7" stroke="#5c5c5c" stroke-width="1.1" stroke-linecap="butt"/>
<line x1="442.5" y1="223.3" x2="442.5" y2="225.5" stroke="#5c5c5c" stroke-width="1.1" stroke-linecap="butt"/>
<line x1="459.3" y1="381.7" x2="459.3" y2="383.5" stroke="#5c5c5c" stroke-width="1" stroke-linecap="butt"/>
<line x1="459.3" y1="223.3" x2="459.3" y2="224.8" stroke="#5c5c5c" stroke-width="1" stroke-linecap="butt"/>
<line x1="476.1" y1="381.7" x2="476.1" y2="384.7" stroke="#5c5c5c" stroke-width="1.1" stroke-linecap="butt"/>
<line x1="476.1" y1="223.3" x2="476.1" y2="225.5" stroke="#5c5c5c" stroke-width="1.1" stroke-linecap="butt"/>
<line x1="306.5" y1="380.49" x2="308.1" y2="380.49" stroke="#5c5c5c" stroke-width="1" stroke-linecap="butt"/>
<line x1="306.5" y1="366.2" x2="308.1" y2="366.2" stroke="#5c5c5c" stroke-width="1" stroke-linecap="butt"/>
<line x1="306.5" y1="351.91" x2="308.1" y2="351.91" stroke="#5c5c5c" stroke-width="1" stroke-linecap="butt"/>
<line x1="306.5" y1="337.62" x2="308.1" y2="337.62" stroke="#5c5c5c" stroke-width="1" stroke-linecap="butt"/>
<line x1="306.5" y1="323.33" x2="308.1" y2="323.33" stroke="#5c5c5c" stroke-width="1" stroke-linecap="butt"/>
<line x1="306.5" y1="309.04" x2="308.1" y2="309.04" stroke="#5c5c5c" stroke-width="1" stroke-linecap="butt"/>
<line x1="306.5" y1="294.75" x2="308.1" y2="294.75" stroke="#5c5c5c" stroke-width="1" stroke-linecap="butt"/>
<line x1="306.5" y1="280.46" x2="308.1" y2="280.46" stroke="#5c5c5c" stroke-width="1" stroke-linecap="butt"/>
<line x1="306.5" y1="266.17" x2="308.1" y2="266.17" stroke="#5c5c5c" stroke-width="1" stroke-linecap="butt"/>
<line x1="306.5" y1="251.88" x2="308.1" y2="251.88" stroke="#5c5c5c" stroke-width="1" stroke-linecap="butt"/>
<line x1="306.5" y1="237.59" x2="308.1" y2="237.59" stroke="#5c5c5c" stroke-width="1" stroke-linecap="butt"/>
<line x1="306.5" y1="223.3" x2="308.1" y2="223.3" stroke="#5c5c5c" stroke-width="1" stroke-linecap="butt"/>
<line x1="305.5" y1="366.2" x2="308.1" y2="366.2" stroke="#5c5c5c" stroke-width="1.1" stroke-linecap="butt"/>
<line x1="305.5" y1="337.62" x2="308.1" y2="337.62" stroke="#5c5c5c" stroke-width="1.1" stroke-linecap="butt"/>
<line x1="305.5" y1="309.04" x2="308.1" y2="309.04" stroke="#5c5c5c" stroke-width="1.1" stroke-linecap="butt"/>
<line x1="305.5" y1="280.46" x2="308.1" y2="280.46" stroke="#5c5c5c" stroke-width="1.1" stroke-linecap="butt"/>
<line x1="305.5" y1="251.88" x2="308.1" y2="251.88" stroke="#5c5c5c" stroke-width="1.1" stroke-linecap="butt"/>
<line x1="305.5" y1="223.3" x2="308.1" y2="223.3" stroke="#5c5c5c" stroke-width="1.1" stroke-linecap="butt"/>
<line x1="476.1" y1="381.32" x2="477.7" y2="381.32" stroke="#5c5c5c" stroke-width="1" stroke-linecap="butt"/>
<line x1="476.1" y1="372.6" x2="477.7" y2="372.6" stroke="#5c5c5c" stroke-width="1" stroke-linecap="butt"/>
<line x1="476.1" y1="363.88" x2="477.7" y2="363.88" stroke="#5c5c5c" stroke-width="1" stroke-linecap="butt"/>
<line x1="476.1" y1="355.16" x2="477.7" y2="355.16" stroke="#5c5c5c" stroke-width="1" stroke-linecap="butt"/>
<line x1="476.1" y1="346.44" x2="477.7" y2="346.44" stroke="#5c5c5c" stroke-width="1" stroke-linecap="butt"/>
<line x1="476.1" y1="337.73" x2="477.7" y2="337.73" stroke="#5c5c5c" stroke-width="1" stroke-linecap="butt"/>
<line x1="476.1" y1="329.01" x2="477.7" y2="329.01" stroke="#5c5c5c" stroke-width="1" stroke-linecap="butt"/>
<line x1="476.1" y1="320.29" x2="477.7" y2="320.29" stroke="#5c5c5c" stroke-width="1" stroke-linecap="butt"/>
<line x1="476.1" y1="311.57" x2="477.7" y2="311.57" stroke="#5c5c5c" stroke-width="1" stroke-linecap="butt"/>
<line x1="476.1" y1="302.85" x2="477.7" y2="302.85" stroke="#5c5c5c" stroke-width="1" stroke-linecap="butt"/>
<line x1="476.1" y1="294.13" x2="477.7" y2="294.13" stroke="#5c5c5c" stroke-width="1" stroke-linecap="butt"/>
<line x1="476.1" y1="285.41" x2="477.7" y2="285.41" stroke="#5c5c5c" stroke-width="1" stroke-linecap="butt"/>
<line x1="476.1" y1="276.69" x2="477.7" y2="276.69" stroke="#5c5c5c" stroke-width="1" stroke-linecap="butt"/>
<line x1="476.1" y1="267.98" x2="477.7" y2="267.98" stroke="#5c5c5c" stroke-width="1" stroke-linecap="butt"/>
<line x1="476.1" y1="259.26" x2="477.7" y2="259.26" stroke="#5c5c5c" stroke-width="1" stroke-linecap="butt"/>
<line x1="476.1" y1="250.54" x2="477.7" y2="250.54" stroke="#5c5c5c" stroke-width="1" stroke-linecap="butt"/>
<line x1="476.1" y1="241.82" x2="477.7" y2="241.82" stroke="#5c5c5c" stroke-width="1" stroke-linecap="butt"/>
<line x1="476.1" y1="233.1" x2="477.7" y2="233.1" stroke="#5c5c5c" stroke-width="1" stroke-linecap="butt"/>
<line x1="476.1" y1="224.38" x2="477.7" y2="224.38" stroke="#5c5c5c" stroke-width="1" stroke-linecap="butt"/>
<line x1="476.1" y1="372.6" x2="478.7" y2="372.6" stroke="#5c5c5c" stroke-width="1.1" stroke-linecap="butt"/>
<line x1="476.1" y1="355.16" x2="478.7" y2="355.16" stroke="#5c5c5c" stroke-width="1.1" stroke-linecap="butt"/>
<line x1="476.1" y1="337.73" x2="478.7" y2="337.73" stroke="#5c5c5c" stroke-width="1.1" stroke-linecap="butt"/>
<line x1="476.1" y1="320.29" x2="478.7" y2="320.29" stroke="#5c5c5c" stroke-width="1.1" stroke-linecap="butt"/>
<line x1="476.1" y1="302.85" x2="478.7" y2="302.85" stroke="#5c5c5c" stroke-width="1.1" stroke-linecap="butt"/>
<line x1="476.1" y1="285.41" x2="478.7" y2="285.41" stroke="#5c5c5c" stroke-width="1.1" stroke-linecap="butt"/>
<line x1="476.1" y1="267.98" x2="478.7" y2="267.98" stroke="#5c5c5c" stroke-width="1.1" stroke-linecap="butt"/>
<line x1="476.1" y1="250.54" x2="478.7" y2="250.54" stroke="#5c5c5c" stroke-width="1.1" stroke-linecap="butt"/>
<line x1="476.1" y1="233.1" x2="478.7" y2="233.1" stroke="#5c5c5c" stroke-width="1.1" stroke-linecap="butt"/>
<text transform="translate(304,371.3) scale(0.875,1)" font-size="16" text-anchor="end" font-weight="normal" fill="#111">-60</text>
<text transform="translate(304,342.72) scale(0.875,1)" font-size="16" text-anchor="end" font-weight="normal" fill="#111">-40</text>
<text transform="translate(304,314.14) scale(0.875,1)" font-size="16" text-anchor="end" font-weight="normal" fill="#111">-20</text>
<text transform="translate(304,285.56) scale(0.875,1)" font-size="16" text-anchor="end" font-weight="normal" fill="#111">0</text>
<text transform="translate(304,256.98) scale(0.875,1)" font-size="16" text-anchor="end" font-weight="normal" fill="#111">20</text>
<text transform="translate(304,228.4) scale(0.875,1)" font-size="16" text-anchor="end" font-weight="normal" fill="#111">40</text>
<text transform="translate(480.6,377.7) scale(0.875,1)" font-size="16" text-anchor="start" font-weight="normal" fill="#111">-2</text>
<text transform="translate(480.6,360.26) scale(0.875,1)" font-size="16" text-anchor="start" font-weight="normal" fill="#111">0</text>
<text transform="translate(480.6,342.83) scale(0.875,1)" font-size="16" text-anchor="start" font-weight="normal" fill="#111">2</text>
<text transform="translate(480.6,325.39) scale(0.875,1)" font-size="16" text-anchor="start" font-weight="normal" fill="#111">4</text>
<text transform="translate(480.6,307.95) scale(0.875,1)" font-size="16" text-anchor="start" font-weight="normal" fill="#111">6</text>
<text transform="translate(480.6,290.51) scale(0.875,1)" font-size="16" text-anchor="start" font-weight="normal" fill="#111">8</text>
<text transform="translate(480.6,273.08) scale(0.875,1)" font-size="16" text-anchor="start" font-weight="normal" fill="#111">10</text>
<text transform="translate(480.6,255.64) scale(0.875,1)" font-size="16" text-anchor="start" font-weight="normal" fill="#111">12</text>
<text transform="translate(480.6,238.2) scale(0.875,1)" font-size="16" text-anchor="start" font-weight="normal" fill="#111">14</text>
<text transform="translate(308.1,400) scale(0.875,1)" font-size="16" text-anchor="middle" font-weight="normal" fill="#111">0</text>
<text transform="translate(341.7,400) scale(0.875,1)" font-size="16" text-anchor="middle" font-weight="normal" fill="#111">1</text>
<text transform="translate(375.3,400) scale(0.875,1)" font-size="16" text-anchor="middle" font-weight="normal" fill="#111">2</text>
<text transform="translate(408.9,400) scale(0.875,1)" font-size="16" text-anchor="middle" font-weight="normal" fill="#111">3</text>
<text transform="translate(442.5,400) scale(0.875,1)" font-size="16" text-anchor="middle" font-weight="normal" fill="#111">4</text>
<text transform="translate(476.1,400) scale(0.875,1)" font-size="16" text-anchor="middle" font-weight="normal" fill="#111">5</text>
<text transform="translate(268.5,227.5) scale(0.9,1)" font-size="20" text-anchor="start" font-weight="normal" fill="#111">D</text>
<text transform="translate(278.5,303.6) scale(0.93,1) rotate(-90)" font-size="16" font-weight="bold" text-anchor="middle" fill="#111">V (mV)</text>
<text transform="translate(504.4,272.5) scale(1.0,0.935) rotate(90)" font-size="15.5" fill="#111"><tspan font-weight="bold">Re</tspan>&#955;<tspan font-size="9.8" font-weight="bold" dy="5.2">max</tspan><tspan font-size="16" dy="-5.2">(<tspan dx="1">*</tspan>10</tspan><tspan font-size="10" dy="-7.2">-3</tspan><tspan font-size="16" dx="1" dy="7.2">)</tspan></text>
<circle cx="408.3" cy="271.5" r="1.9" fill="#000"/>
<circle cx="408.3" cy="291.2" r="1.9" fill="#e8090f"/>
<text transform="translate(427.5,276.7) scale(0.92,1)" font-size="15" text-anchor="start" font-weight="normal" fill="#111">V (mV)</text>
<text transform="translate(427.5,296.4) scale(0.92,1)" font-size="15" fill="#111">Re&#955;<tspan font-size="9" dy="5.6">max</tspan></text>
<text transform="translate(370.8,411.8) scale(0.87,1)" font-size="15" font-weight="bold" fill="#111">&#945; (<tspan font-size="16">G</tspan><tspan font-size="9.6" dy="5.8">to</tspan><tspan dy="-5.8">)</tspan></text>
<rect x="104" y="431.2" width="10.4" height="146.8" fill="none" stroke="#5050aa" stroke-width="1.2" stroke-dasharray="2.6 3.2"/>
<rect x="192.8" y="436.8" width="14.2" height="121.3" fill="none" stroke="#5050aa" stroke-width="1.2" stroke-dasharray="2.6 3.2"/>
<line x1="42.3" y1="508.3" x2="209.4" y2="508.3" stroke="#5050aa" stroke-width="1.2" stroke-dasharray="2.6 3.2"/>
<path d="M42.3,535.5 C46.08,534.63 57.05,531.88 65,530.3 C72.95,528.72 80.9,527.22 90,526 C99.1,524.78 114.67,523.5 119.6,523" fill="none" stroke="#000" stroke-width="3.4" stroke-linecap="butt" stroke-linejoin="round"/>
<path d="M119.6,523 C124.67,522.67 140.77,521.52 150,521 C159.23,520.48 167.93,520.18 175,519.9 C182.07,519.62 189.5,519.4 192.4,519.3" fill="none" stroke="#000" stroke-width="2.1" stroke-dasharray="4.7 6.5" stroke-linecap="butt" stroke-linejoin="round"/>
<path d="M192.4,519.2 L209.4,518.4" fill="none" stroke="#000" stroke-width="3.6" stroke-linecap="butt" stroke-linejoin="round"/>
<path d="M104,439.4 C110,439.5 128.17,439.7 140,440 C151.83,440.3 163.43,440.4 175,441.2 C186.57,442 203.67,444.2 209.4,444.8" fill="none" stroke="#000" stroke-width="3.1" stroke-linecap="butt" stroke-linejoin="round"/>
<path d="M104,551.6 C110,550.8 128.17,548.37 140,546.8 C151.83,545.23 163.43,543.6 175,542.2 C186.57,540.8 203.67,539.03 209.4,538.4" fill="none" stroke="#000" stroke-width="3.1" stroke-linecap="butt" stroke-linejoin="round"/>
<path d="M44.3,521 C45.08,521.25 47.45,521.53 49,522.5 C50.55,523.47 52.27,525.3 53.6,526.8 C54.93,528.3 56.08,530.13 57,531.5 C57.92,532.87 58.38,533.75 59.1,535 C59.82,536.25 60.93,538.33 61.3,539" fill="none" stroke="#e8090f" stroke-width="3.4" stroke-linecap="butt" stroke-linejoin="round"/>
<circle cx="62.6" cy="541.8" r="1.75" fill="#e8090f"/>
<circle cx="64.2" cy="546.3" r="1.75" fill="#e8090f"/>
<circle cx="65.9" cy="551" r="1.75" fill="#e8090f"/>
<circle cx="67.3" cy="555.3" r="1.75" fill="#e8090f"/>
<circle cx="68.6" cy="559.3" r="1.75" fill="#e8090f"/>
<circle cx="69.7" cy="563" r="1.75" fill="#e8090f"/>
<circle cx="70.7" cy="566.3" r="1.75" fill="#e8090f"/>
<circle cx="71.5" cy="569.5" r="1.75" fill="#e8090f"/>
<path d="M72,572.2 C73.33,571.67 77,569.93 80,569 C83,568.07 86.45,567.27 90,566.6 C93.55,565.93 99.42,565.27 101.3,565" fill="none" stroke="#e8090f" stroke-width="3.4" stroke-linecap="butt" stroke-linejoin="round"/>
<circle cx="102.9" cy="558.9" r="1.75" fill="#e8090f"/>
<circle cx="103.6" cy="554.9" r="1.75" fill="#e8090f"/>
<circle cx="104.3" cy="551" r="1.75" fill="#e8090f"/>
<circle cx="105" cy="546" r="1.75" fill="#e8090f"/>
<circle cx="106.1" cy="539.9" r="1.75" fill="#e8090f"/>
<circle cx="107" cy="533.8" r="1.75" fill="#e8090f"/>
<circle cx="108.4" cy="528.3" r="1.75" fill="#e8090f"/>
<circle cx="109.7" cy="523.6" r="1.75" fill="#e8090f"/>
<circle cx="111.1" cy="518.8" r="1.75" fill="#e8090f"/>
<circle cx="112.4" cy="513.8" r="1.75" fill="#e8090f"/>
<circle cx="113.8" cy="509.3" r="1.75" fill="#e8090f"/>
<circle cx="115.2" cy="505.2" r="1.75" fill="#e8090f"/>
<circle cx="116.5" cy="501.1" r="1.75" fill="#e8090f"/>
<path d="M117.4,498.6 C117.75,497.68 118.57,495.17 119.5,493.1 C120.43,491.03 121.83,488.42 123,486.2 C124.17,483.98 125.15,481.92 126.5,479.8 C127.85,477.68 129.38,475.42 131.1,473.5 C132.82,471.58 134.88,469.65 136.8,468.3 C138.72,466.95 140.87,465.98 142.6,465.4 C144.33,464.82 145.27,464.7 147.2,464.8 C149.13,464.9 152.08,465.33 154.2,466 C156.32,466.67 157.8,467.3 159.9,468.8 C162,470.3 164.52,472.72 166.8,475 C169.08,477.28 171.33,479.78 173.6,482.5 C175.87,485.22 178.13,488.25 180.4,491.3 C182.67,494.35 185.15,497.97 187.2,500.8 C189.25,503.63 190.88,505.57 192.7,508.3 C194.52,511.03 196.28,513.9 198.1,517.2 C199.92,520.5 201.9,524.7 203.6,528.1 C205.3,531.5 207.33,535.68 208.3,537.6 C209.27,539.52 209.22,539.27 209.4,539.6" fill="none" stroke="#e8090f" stroke-width="3.4" stroke-linecap="butt" stroke-linejoin="round"/>
<rect x="42.3" y="429.3" width="167.1" height="158.5" fill="none" stroke="#5c5c5c" stroke-width="1.1"/>
<line x1="42.3" y1="587.8" x2="42.3" y2="590.8" stroke="#5c5c5c" stroke-width="1.1" stroke-linecap="butt"/>
<line x1="42.3" y1="429.3" x2="42.3" y2="431.5" stroke="#5c5c5c" stroke-width="1.1" stroke-linecap="butt"/>
<line x1="54.24" y1="587.8" x2="54.24" y2="589.6" stroke="#5c5c5c" stroke-width="1" stroke-linecap="butt"/>
<line x1="54.24" y1="429.3" x2="54.24" y2="430.8" stroke="#5c5c5c" stroke-width="1" stroke-linecap="butt"/>
<line x1="66.17" y1="587.8" x2="66.17" y2="590.8" stroke="#5c5c5c" stroke-width="1.1" stroke-linecap="butt"/>
<line x1="66.17" y1="429.3" x2="66.17" y2="431.5" stroke="#5c5c5c" stroke-width="1.1" stroke-linecap="butt"/>
<line x1="78.11" y1="587.8" x2="78.11" y2="589.6" stroke="#5c5c5c" stroke-width="1" stroke-linecap="butt"/>
<line x1="78.11" y1="429.3" x2="78.11" y2="430.8" stroke="#5c5c5c" stroke-width="1" stroke-linecap="butt"/>
<line x1="90.04" y1="587.8" x2="90.04" y2="590.8" stroke="#5c5c5c" stroke-width="1.1" stroke-linecap="butt"/>
<line x1="90.04" y1="429.3" x2="90.04" y2="431.5" stroke="#5c5c5c" stroke-width="1.1" stroke-linecap="butt"/>
<line x1="101.98" y1="587.8" x2="101.98" y2="589.6" stroke="#5c5c5c" stroke-width="1" stroke-linecap="butt"/>
<line x1="101.98" y1="429.3" x2="101.98" y2="430.8" stroke="#5c5c5c" stroke-width="1" stroke-linecap="butt"/>
<line x1="113.91" y1="587.8" x2="113.91" y2="590.8" stroke="#5c5c5c" stroke-width="1.1" stroke-linecap="butt"/>
<line x1="113.91" y1="429.3" x2="113.91" y2="431.5" stroke="#5c5c5c" stroke-width="1.1" stroke-linecap="butt"/>
<line x1="125.85" y1="587.8" x2="125.85" y2="589.6" stroke="#5c5c5c" stroke-width="1" stroke-linecap="butt"/>
<line x1="125.85" y1="429.3" x2="125.85" y2="430.8" stroke="#5c5c5c" stroke-width="1" stroke-linecap="butt"/>
<line x1="137.79" y1="587.8" x2="137.79" y2="590.8" stroke="#5c5c5c" stroke-width="1.1" stroke-linecap="butt"/>
<line x1="137.79" y1="429.3" x2="137.79" y2="431.5" stroke="#5c5c5c" stroke-width="1.1" stroke-linecap="butt"/>
<line x1="149.72" y1="587.8" x2="149.72" y2="589.6" stroke="#5c5c5c" stroke-width="1" stroke-linecap="butt"/>
<line x1="149.72" y1="429.3" x2="149.72" y2="430.8" stroke="#5c5c5c" stroke-width="1" stroke-linecap="butt"/>
<line x1="161.66" y1="587.8" x2="161.66" y2="590.8" stroke="#5c5c5c" stroke-width="1.1" stroke-linecap="butt"/>
<line x1="161.66" y1="429.3" x2="161.66" y2="431.5" stroke="#5c5c5c" stroke-width="1.1" stroke-linecap="butt"/>
<line x1="173.59" y1="587.8" x2="173.59" y2="589.6" stroke="#5c5c5c" stroke-width="1" stroke-linecap="butt"/>
<line x1="173.59" y1="429.3" x2="173.59" y2="430.8" stroke="#5c5c5c" stroke-width="1" stroke-linecap="butt"/>
<line x1="185.53" y1="587.8" x2="185.53" y2="590.8" stroke="#5c5c5c" stroke-width="1.1" stroke-linecap="butt"/>
<line x1="185.53" y1="429.3" x2="185.53" y2="431.5" stroke="#5c5c5c" stroke-width="1.1" stroke-linecap="butt"/>
<line x1="197.46" y1="587.8" x2="197.46" y2="589.6" stroke="#5c5c5c" stroke-width="1" stroke-linecap="butt"/>
<line x1="197.46" y1="429.3" x2="197.46" y2="430.8" stroke="#5c5c5c" stroke-width="1" stroke-linecap="butt"/>
<line x1="209.4" y1="587.8" x2="209.4" y2="590.8" stroke="#5c5c5c" stroke-width="1.1" stroke-linecap="butt"/>
<line x1="209.4" y1="429.3" x2="209.4" y2="431.5" stroke="#5c5c5c" stroke-width="1.1" stroke-linecap="butt"/>
<line x1="40.7" y1="587.37" x2="42.3" y2="587.37" stroke="#5c5c5c" stroke-width="1" stroke-linecap="butt"/>
<line x1="40.7" y1="574.2" x2="42.3" y2="574.2" stroke="#5c5c5c" stroke-width="1" stroke-linecap="butt"/>
<line x1="40.7" y1="561.03" x2="42.3" y2="561.03" stroke="#5c5c5c" stroke-width="1" stroke-linecap="butt"/>
<line x1="40.7" y1="547.86" x2="42.3" y2="547.86" stroke="#5c5c5c" stroke-width="1" stroke-linecap="butt"/>
<line x1="40.7" y1="534.69" x2="42.3" y2="534.69" stroke="#5c5c5c" stroke-width="1" stroke-linecap="butt"/>
<line x1="40.7" y1="521.52" x2="42.3" y2="521.52" stroke="#5c5c5c" stroke-width="1" stroke-linecap="butt"/>
<line x1="40.7" y1="508.35" x2="42.3" y2="508.35" stroke="#5c5c5c" stroke-width="1" stroke-linecap="butt"/>
<line x1="40.7" y1="495.18" x2="42.3" y2="495.18" stroke="#5c5c5c" stroke-width="1" stroke-linecap="butt"/>
<line x1="40.7" y1="482.01" x2="42.3" y2="482.01" stroke="#5c5c5c" stroke-width="1" stroke-linecap="butt"/>
<line x1="40.7" y1="468.84" x2="42.3" y2="468.84" stroke="#5c5c5c" stroke-width="1" stroke-linecap="butt"/>
<line x1="40.7" y1="455.67" x2="42.3" y2="455.67" stroke="#5c5c5c" stroke-width="1" stroke-linecap="butt"/>
<line x1="40.7" y1="442.5" x2="42.3" y2="442.5" stroke="#5c5c5c" stroke-width="1" stroke-linecap="butt"/>
<line x1="40.7" y1="429.33" x2="42.3" y2="429.33" stroke="#5c5c5c" stroke-width="1" stroke-linecap="butt"/>
<line x1="39.7" y1="574.2" x2="42.3" y2="574.2" stroke="#5c5c5c" stroke-width="1.1" stroke-linecap="butt"/>
<line x1="39.7" y1="547.86" x2="42.3" y2="547.86" stroke="#5c5c5c" stroke-width="1.1" stroke-linecap="butt"/>
<line x1="39.7" y1="521.52" x2="42.3" y2="521.52" stroke="#5c5c5c" stroke-width="1.1" stroke-linecap="butt"/>
<line x1="39.7" y1="495.18" x2="42.3" y2="495.18" stroke="#5c5c5c" stroke-width="1.1" stroke-linecap="butt"/>
<line x1="39.7" y1="468.84" x2="42.3" y2="468.84" stroke="#5c5c5c" stroke-width="1.1" stroke-linecap="butt"/>
<line x1="39.7" y1="442.5" x2="42.3" y2="442.5" stroke="#5c5c5c" stroke-width="1.1" stroke-linecap="butt"/>
<line x1="209.4" y1="587.7" x2="211" y2="587.7" stroke="#5c5c5c" stroke-width="1" stroke-linecap="butt"/>
<line x1="209.4" y1="574.5" x2="211" y2="574.5" stroke="#5c5c5c" stroke-width="1" stroke-linecap="butt"/>
<line x1="209.4" y1="561.3" x2="211" y2="561.3" stroke="#5c5c5c" stroke-width="1" stroke-linecap="butt"/>
<line x1="209.4" y1="548.1" x2="211" y2="548.1" stroke="#5c5c5c" stroke-width="1" stroke-linecap="butt"/>
<line x1="209.4" y1="534.9" x2="211" y2="534.9" stroke="#5c5c5c" stroke-width="1" stroke-linecap="butt"/>
<line x1="209.4" y1="521.7" x2="211" y2="521.7" stroke="#5c5c5c" stroke-width="1" stroke-linecap="butt"/>
<line x1="209.4" y1="508.5" x2="211" y2="508.5" stroke="#5c5c5c" stroke-width="1" stroke-linecap="butt"/>
<line x1="209.4" y1="495.3" x2="211" y2="495.3" stroke="#5c5c5c" stroke-width="1" stroke-linecap="butt"/>
<line x1="209.4" y1="482.1" x2="211" y2="482.1" stroke="#5c5c5c" stroke-width="1" stroke-linecap="butt"/>
<line x1="209.4" y1="468.9" x2="211" y2="468.9" stroke="#5c5c5c" stroke-width="1" stroke-linecap="butt"/>
<line x1="209.4" y1="455.7" x2="211" y2="455.7" stroke="#5c5c5c" stroke-width="1" stroke-linecap="butt"/>
<line x1="209.4" y1="442.5" x2="211" y2="442.5" stroke="#5c5c5c" stroke-width="1" stroke-linecap="butt"/>
<line x1="209.4" y1="429.3" x2="211" y2="429.3" stroke="#5c5c5c" stroke-width="1" stroke-linecap="butt"/>
<line x1="209.4" y1="587.7" x2="212" y2="587.7" stroke="#5c5c5c" stroke-width="1.1" stroke-linecap="butt"/>
<line x1="209.4" y1="561.3" x2="212" y2="561.3" stroke="#5c5c5c" stroke-width="1.1" stroke-linecap="butt"/>
<line x1="209.4" y1="534.9" x2="212" y2="534.9" stroke="#5c5c5c" stroke-width="1.1" stroke-linecap="butt"/>
<line x1="209.4" y1="508.5" x2="212" y2="508.5" stroke="#5c5c5c" stroke-width="1.1" stroke-linecap="butt"/>
<line x1="209.4" y1="482.1" x2="212" y2="482.1" stroke="#5c5c5c" stroke-width="1.1" stroke-linecap="butt"/>
<line x1="209.4" y1="455.7" x2="212" y2="455.7" stroke="#5c5c5c" stroke-width="1.1" stroke-linecap="butt"/>
<line x1="209.4" y1="429.3" x2="212" y2="429.3" stroke="#5c5c5c" stroke-width="1.1" stroke-linecap="butt"/>
<text transform="translate(38.6,578.9) scale(0.875,1)" font-size="16" text-anchor="end" font-weight="normal" fill="#111">-80</text>
<text transform="translate(38.6,552.56) scale(0.875,1)" font-size="16" text-anchor="end" font-weight="normal" fill="#111">-60</text>
<text transform="translate(38.6,526.22) scale(0.875,1)" font-size="16" text-anchor="end" font-weight="normal" fill="#111">-40</text>
<text transform="translate(38.6,499.88) scale(0.875,1)" font-size="16" text-anchor="end" font-weight="normal" fill="#111">-20</text>
<text transform="translate(38.6,473.54) scale(0.875,1)" font-size="16" text-anchor="end" font-weight="normal" fill="#111">0</text>
<text transform="translate(38.6,447.2) scale(0.875,1)" font-size="16" text-anchor="end" font-weight="normal" fill="#111">20</text>
<text transform="translate(213.6,592.4) scale(0.875,1)" font-size="16" text-anchor="start" font-weight="normal" fill="#111">-3</text>
<text transform="translate(213.6,566) scale(0.875,1)" font-size="16" text-anchor="start" font-weight="normal" fill="#111">-2</text>
<text transform="translate(213.6,539.6) scale(0.875,1)" font-size="16" text-anchor="start" font-weight="normal" fill="#111">-1</text>
<text transform="translate(213.6,513.2) scale(0.875,1)" font-size="16" text-anchor="start" font-weight="normal" fill="#111">0</text>
<text transform="translate(213.6,486.8) scale(0.875,1)" font-size="16" text-anchor="start" font-weight="normal" fill="#111">1</text>
<text transform="translate(213.6,460.4) scale(0.875,1)" font-size="16" text-anchor="start" font-weight="normal" fill="#111">2</text>
<text transform="translate(213.6,434) scale(0.875,1)" font-size="16" text-anchor="start" font-weight="normal" fill="#111">3</text>
<text transform="translate(42.3,604.6) scale(0.875,1)" font-size="16" text-anchor="middle" font-weight="normal" fill="#111">1</text>
<text transform="translate(66.17,604.6) scale(0.875,1)" font-size="16" text-anchor="middle" font-weight="normal" fill="#111">2</text>
<text transform="translate(90.04,604.6) scale(0.875,1)" font-size="16" text-anchor="middle" font-weight="normal" fill="#111">3</text>
<text transform="translate(113.91,604.6) scale(0.875,1)" font-size="16" text-anchor="middle" font-weight="normal" fill="#111">4</text>
<text transform="translate(137.79,604.6) scale(0.875,1)" font-size="16" text-anchor="middle" font-weight="normal" fill="#111">5</text>
<text transform="translate(161.66,604.6) scale(0.875,1)" font-size="16" text-anchor="middle" font-weight="normal" fill="#111">6</text>
<text transform="translate(185.53,604.6) scale(0.875,1)" font-size="16" text-anchor="middle" font-weight="normal" fill="#111">7</text>
<text transform="translate(209.4,604.6) scale(0.875,1)" font-size="16" text-anchor="middle" font-weight="normal" fill="#111">8</text>
<text transform="translate(3.4,432.6) scale(0.76,1)" font-size="20" text-anchor="start" font-weight="normal" fill="#111">E</text>
<text transform="translate(10,506.8) scale(0.93,1) rotate(-90)" font-size="16" font-weight="bold" text-anchor="middle" fill="#111">V (mV)</text>
<text transform="translate(238.2,469.7) scale(1.0,0.955) rotate(90)" font-size="15.5" fill="#111"><tspan font-weight="bold">Re</tspan>&#955;<tspan font-size="9.8" font-weight="bold" dy="5.2">max</tspan><tspan font-size="16" dy="-5.2">(<tspan dx="1">*</tspan>10</tspan><tspan font-size="10" dy="-7.2">-3</tspan><tspan font-size="16" dx="1" dy="7.2">)</tspan></text>
<circle cx="44.7" cy="469" r="1.9" fill="#000"/>
<circle cx="44.7" cy="488.4" r="1.9" fill="#e8090f"/>
<text transform="translate(63.8,474.2) scale(0.92,1)" font-size="15" text-anchor="start" font-weight="normal" fill="#111">V (mV)</text>
<text transform="translate(63.8,493.6) scale(0.92,1)" font-size="15" fill="#111">Re&#955;<tspan font-size="9" dy="5.6">max</tspan></text>
<text transform="translate(87.2,617.4) scale(0.86,1)" font-size="15" font-weight="bold" fill="#111">[K]<tspan font-size="9" dy="6">o</tspan><tspan dy="-6"> (mmol)</tspan></text>
<rect x="430.3" y="435.2" width="48.2" height="146.7" fill="none" stroke="#5050aa" stroke-width="1.2" stroke-dasharray="2.6 3.2"/>
<line x1="309.5" y1="515.9" x2="478.8" y2="515.9" stroke="#5050aa" stroke-width="1.2" stroke-dasharray="2.6 3.2"/>
<path d="M309.5,540.3 L320.6,540.3" fill="none" stroke="#000" stroke-width="3.4" stroke-linecap="butt" stroke-linejoin="round"/>
<path d="M320.6,540.3 L430.3,540.4" fill="none" stroke="#000" stroke-width="1.9" stroke-dasharray="4.8 6.9" stroke-linecap="butt" stroke-linejoin="round"/>
<path d="M430.3,540.4 L478.8,540.4" fill="none" stroke="#000" stroke-width="3.6" stroke-linecap="butt" stroke-linejoin="round"/>
<path d="M316.8,453.4 C317.17,452.67 318,450.37 319,449 C320,447.63 321.27,446.33 322.8,445.2 C324.33,444.07 326.42,442.88 328.2,442.2 C329.98,441.52 331.72,441.33 333.5,441.1 C335.28,440.87 336.2,440.7 338.9,440.8 C341.6,440.9 346.1,441.33 349.7,441.7 C353.3,442.07 355.7,442.42 360.5,443 C365.3,443.58 371.92,444.57 378.5,445.2 C385.08,445.83 389.75,446.23 400,446.8 C410.25,447.37 426.87,447.97 440,448.6 C453.13,449.23 472.33,450.27 478.8,450.6" fill="none" stroke="#000" stroke-width="3.6" stroke-linecap="butt" stroke-linejoin="round"/>
<path d="M316.2,560.8 C316.83,561.27 318.37,562.73 320,563.6 C321.63,564.47 322.7,565.07 326,566 C329.3,566.93 334.13,568.47 339.8,569.2 C345.47,569.93 351.63,570.13 360,570.4 C368.37,570.67 370.2,570.77 390,570.8 C409.8,570.83 464,570.63 478.8,570.6" fill="none" stroke="#000" stroke-width="3.6" stroke-linecap="butt" stroke-linejoin="round"/>
<path d="M309.5,574.5 L315.3,574.3" fill="none" stroke="#e8090f" stroke-width="3.0" stroke-linecap="butt" stroke-linejoin="round"/>
<circle cx="314.4" cy="572.2" r="1.9" fill="#e8090f"/>
<circle cx="314.6" cy="557" r="1.75" fill="#e8090f"/>
<circle cx="315" cy="549.5" r="1.75" fill="#e8090f"/>
<circle cx="315.3" cy="533" r="1.75" fill="#e8090f"/>
<circle cx="315.5" cy="525" r="1.75" fill="#e8090f"/>
<circle cx="315.7" cy="517.5" r="1.75" fill="#e8090f"/>
<circle cx="315.9" cy="509" r="1.75" fill="#e8090f"/>
<circle cx="316.1" cy="502" r="1.75" fill="#e8090f"/>
<circle cx="316.4" cy="496" r="1.75" fill="#e8090f"/>
<circle cx="316.6" cy="490.8" r="1.75" fill="#e8090f"/>
<circle cx="316.9" cy="486" r="1.75" fill="#e8090f"/>
<circle cx="317.1" cy="482.5" r="1.75" fill="#e8090f"/>
<path d="M317.2,480 C317.3,478.75 317.53,474.83 317.8,472.5 C318.07,470.17 318.37,467.95 318.8,466 C319.23,464.05 319.73,462.27 320.4,460.8 C321.07,459.33 321.82,458.1 322.8,457.2 C323.78,456.3 325.1,455.57 326.3,455.4 C327.5,455.23 328.55,455.47 330,456.2 C331.45,456.93 333.2,458.32 335,459.8 C336.8,461.28 338.05,462.43 340.8,465.1 C343.55,467.77 347.92,472.57 351.5,475.8 C355.08,479.03 358.7,481.95 362.3,484.5 C365.9,487.05 369.52,489 373.1,491.1 C376.68,493.2 379.45,494.72 383.8,497.1 C388.15,499.48 393.42,502.9 399.2,505.4 C404.98,507.9 413.2,510.33 418.5,512.1 C423.8,513.87 426.2,514.72 431,516 C435.8,517.28 441.38,518.52 447.3,519.8 C453.22,521.08 461.25,522.63 466.5,523.7 C471.75,524.77 476.75,525.78 478.8,526.2" fill="none" stroke="#e8090f" stroke-width="3.4" stroke-linecap="butt" stroke-linejoin="round"/>
<rect x="309.5" y="429.3" width="169.3" height="158.8" fill="none" stroke="#5c5c5c" stroke-width="1.1"/>
<line x1="309.5" y1="588.1" x2="309.5" y2="591.1" stroke="#5c5c5c" stroke-width="1.1" stroke-linecap="butt"/>
<line x1="309.5" y1="429.3" x2="309.5" y2="431.5" stroke="#5c5c5c" stroke-width="1.1" stroke-linecap="butt"/>
<line x1="326.43" y1="588.1" x2="326.43" y2="589.9" stroke="#5c5c5c" stroke-width="1" stroke-linecap="butt"/>
<line x1="326.43" y1="429.3" x2="326.43" y2="430.8" stroke="#5c5c5c" stroke-width="1" stroke-linecap="butt"/>
<line x1="343.36" y1="588.1" x2="343.36" y2="591.1" stroke="#5c5c5c" stroke-width="1.1" stroke-linecap="butt"/>
<line x1="343.36" y1="429.3" x2="343.36" y2="431.5" stroke="#5c5c5c" stroke-width="1.1" stroke-linecap="butt"/>
<line x1="360.29" y1="588.1" x2="360.29" y2="589.9" stroke="#5c5c5c" stroke-width="1" stroke-linecap="butt"/>
<line x1="360.29" y1="429.3" x2="360.29" y2="430.8" stroke="#5c5c5c" stroke-width="1" stroke-linecap="butt"/>
<line x1="377.22" y1="588.1" x2="377.22" y2="591.1" stroke="#5c5c5c" stroke-width="1.1" stroke-linecap="butt"/>
<line x1="377.22" y1="429.3" x2="377.22" y2="431.5" stroke="#5c5c5c" stroke-width="1.1" stroke-linecap="butt"/>
<line x1="394.15" y1="588.1" x2="394.15" y2="589.9" stroke="#5c5c5c" stroke-width="1" stroke-linecap="butt"/>
<line x1="394.15" y1="429.3" x2="394.15" y2="430.8" stroke="#5c5c5c" stroke-width="1" stroke-linecap="butt"/>
<line x1="411.08" y1="588.1" x2="411.08" y2="591.1" stroke="#5c5c5c" stroke-width="1.1" stroke-linecap="butt"/>
<line x1="411.08" y1="429.3" x2="411.08" y2="431.5" stroke="#5c5c5c" stroke-width="1.1" stroke-linecap="butt"/>
<line x1="428.01" y1="588.1" x2="428.01" y2="589.9" stroke="#5c5c5c" stroke-width="1" stroke-linecap="butt"/>
<line x1="428.01" y1="429.3" x2="428.01" y2="430.8" stroke="#5c5c5c" stroke-width="1" stroke-linecap="butt"/>
<line x1="444.94" y1="588.1" x2="444.94" y2="591.1" stroke="#5c5c5c" stroke-width="1.1" stroke-linecap="butt"/>
<line x1="444.94" y1="429.3" x2="444.94" y2="431.5" stroke="#5c5c5c" stroke-width="1.1" stroke-linecap="butt"/>
<line x1="461.87" y1="588.1" x2="461.87" y2="589.9" stroke="#5c5c5c" stroke-width="1" stroke-linecap="butt"/>
<line x1="461.87" y1="429.3" x2="461.87" y2="430.8" stroke="#5c5c5c" stroke-width="1" stroke-linecap="butt"/>
<line x1="478.8" y1="588.1" x2="478.8" y2="591.1" stroke="#5c5c5c" stroke-width="1.1" stroke-linecap="butt"/>
<line x1="478.8" y1="429.3" x2="478.8" y2="431.5" stroke="#5c5c5c" stroke-width="1.1" stroke-linecap="butt"/>
<line x1="307.9" y1="587.77" x2="309.5" y2="587.77" stroke="#5c5c5c" stroke-width="1" stroke-linecap="butt"/>
<line x1="307.9" y1="572" x2="309.5" y2="572" stroke="#5c5c5c" stroke-width="1" stroke-linecap="butt"/>
<line x1="307.9" y1="556.23" x2="309.5" y2="556.23" stroke="#5c5c5c" stroke-width="1" stroke-linecap="butt"/>
<line x1="307.9" y1="540.45" x2="309.5" y2="540.45" stroke="#5c5c5c" stroke-width="1" stroke-linecap="butt"/>
<line x1="307.9" y1="524.67" x2="309.5" y2="524.67" stroke="#5c5c5c" stroke-width="1" stroke-linecap="butt"/>
<line x1="307.9" y1="508.9" x2="309.5" y2="508.9" stroke="#5c5c5c" stroke-width="1" stroke-linecap="butt"/>
<line x1="307.9" y1="493.12" x2="309.5" y2="493.12" stroke="#5c5c5c" stroke-width="1" stroke-linecap="butt"/>
<line x1="307.9" y1="477.35" x2="309.5" y2="477.35" stroke="#5c5c5c" stroke-width="1" stroke-linecap="butt"/>
<line x1="307.9" y1="461.57" x2="309.5" y2="461.57" stroke="#5c5c5c" stroke-width="1" stroke-linecap="butt"/>
<line x1="307.9" y1="445.8" x2="309.5" y2="445.8" stroke="#5c5c5c" stroke-width="1" stroke-linecap="butt"/>
<line x1="307.9" y1="430.03" x2="309.5" y2="430.03" stroke="#5c5c5c" stroke-width="1" stroke-linecap="butt"/>
<line x1="306.9" y1="572" x2="309.5" y2="572" stroke="#5c5c5c" stroke-width="1.1" stroke-linecap="butt"/>
<line x1="306.9" y1="540.45" x2="309.5" y2="540.45" stroke="#5c5c5c" stroke-width="1.1" stroke-linecap="butt"/>
<line x1="306.9" y1="508.9" x2="309.5" y2="508.9" stroke="#5c5c5c" stroke-width="1.1" stroke-linecap="butt"/>
<line x1="306.9" y1="477.35" x2="309.5" y2="477.35" stroke="#5c5c5c" stroke-width="1.1" stroke-linecap="butt"/>
<line x1="306.9" y1="445.8" x2="309.5" y2="445.8" stroke="#5c5c5c" stroke-width="1.1" stroke-linecap="butt"/>
<line x1="478.8" y1="574.3" x2="480.4" y2="574.3" stroke="#5c5c5c" stroke-width="1" stroke-linecap="butt"/>
<line x1="478.8" y1="559.81" x2="480.4" y2="559.81" stroke="#5c5c5c" stroke-width="1" stroke-linecap="butt"/>
<line x1="478.8" y1="545.32" x2="480.4" y2="545.32" stroke="#5c5c5c" stroke-width="1" stroke-linecap="butt"/>
<line x1="478.8" y1="530.83" x2="480.4" y2="530.83" stroke="#5c5c5c" stroke-width="1" stroke-linecap="butt"/>
<line x1="478.8" y1="516.34" x2="480.4" y2="516.34" stroke="#5c5c5c" stroke-width="1" stroke-linecap="butt"/>
<line x1="478.8" y1="501.85" x2="480.4" y2="501.85" stroke="#5c5c5c" stroke-width="1" stroke-linecap="butt"/>
<line x1="478.8" y1="487.36" x2="480.4" y2="487.36" stroke="#5c5c5c" stroke-width="1" stroke-linecap="butt"/>
<line x1="478.8" y1="472.87" x2="480.4" y2="472.87" stroke="#5c5c5c" stroke-width="1" stroke-linecap="butt"/>
<line x1="478.8" y1="458.38" x2="480.4" y2="458.38" stroke="#5c5c5c" stroke-width="1" stroke-linecap="butt"/>
<line x1="478.8" y1="443.89" x2="480.4" y2="443.89" stroke="#5c5c5c" stroke-width="1" stroke-linecap="butt"/>
<line x1="478.8" y1="429.4" x2="480.4" y2="429.4" stroke="#5c5c5c" stroke-width="1" stroke-linecap="butt"/>
<line x1="478.8" y1="574.3" x2="481.4" y2="574.3" stroke="#5c5c5c" stroke-width="1.1" stroke-linecap="butt"/>
<line x1="478.8" y1="545.32" x2="481.4" y2="545.32" stroke="#5c5c5c" stroke-width="1.1" stroke-linecap="butt"/>
<line x1="478.8" y1="516.34" x2="481.4" y2="516.34" stroke="#5c5c5c" stroke-width="1.1" stroke-linecap="butt"/>
<line x1="478.8" y1="487.36" x2="481.4" y2="487.36" stroke="#5c5c5c" stroke-width="1.1" stroke-linecap="butt"/>
<line x1="478.8" y1="458.38" x2="481.4" y2="458.38" stroke="#5c5c5c" stroke-width="1.1" stroke-linecap="butt"/>
<line x1="478.8" y1="429.4" x2="481.4" y2="429.4" stroke="#5c5c5c" stroke-width="1.1" stroke-linecap="butt"/>
<text transform="translate(305.6,576.4) scale(0.885,1)" font-size="16" text-anchor="end" font-weight="normal" fill="#111">-60</text>
<text transform="translate(305.6,544.85) scale(0.885,1)" font-size="16" text-anchor="end" font-weight="normal" fill="#111">-40</text>
<text transform="translate(305.6,513.3) scale(0.885,1)" font-size="16" text-anchor="end" font-weight="normal" fill="#111">-20</text>
<text transform="translate(305.6,481.75) scale(0.885,1)" font-size="16" text-anchor="end" font-weight="normal" fill="#111">0</text>
<text transform="translate(305.6,450.2) scale(0.885,1)" font-size="16" text-anchor="end" font-weight="normal" fill="#111">20</text>
<text transform="translate(482.6,578.7) scale(0.885,1)" font-size="16" text-anchor="start" font-weight="normal" fill="#111">-2</text>
<text transform="translate(482.6,549.72) scale(0.885,1)" font-size="16" text-anchor="start" font-weight="normal" fill="#111">-1</text>
<text transform="translate(482.6,520.74) scale(0.885,1)" font-size="16" text-anchor="start" font-weight="normal" fill="#111">0</text>
<text transform="translate(482.6,491.76) scale(0.885,1)" font-size="16" text-anchor="start" font-weight="normal" fill="#111">1</text>
<text transform="translate(482.6,462.78) scale(0.885,1)" font-size="16" text-anchor="start" font-weight="normal" fill="#111">2</text>
<text transform="translate(482.6,433.8) scale(0.885,1)" font-size="16" text-anchor="start" font-weight="normal" fill="#111">3</text>
<text transform="translate(309.5,605.6) scale(0.885,1)" font-size="16" text-anchor="middle" font-weight="normal" fill="#111">0</text>
<text transform="translate(343.36,605.6) scale(0.885,1)" font-size="16" text-anchor="middle" font-weight="normal" fill="#111">1</text>
<text transform="translate(377.22,605.6) scale(0.885,1)" font-size="16" text-anchor="middle" font-weight="normal" fill="#111">2</text>
<text transform="translate(411.08,605.6) scale(0.885,1)" font-size="16" text-anchor="middle" font-weight="normal" fill="#111">3</text>
<text transform="translate(444.94,605.6) scale(0.885,1)" font-size="16" text-anchor="middle" font-weight="normal" fill="#111">4</text>
<text transform="translate(478.8,605.6) scale(0.885,1)" font-size="16" text-anchor="middle" font-weight="normal" fill="#111">5</text>
<text transform="translate(270.4,432.8) scale(0.76,1)" font-size="20" text-anchor="start" font-weight="normal" fill="#111">F</text>
<text transform="translate(276.5,514.7) scale(0.93,1) rotate(-90)" font-size="16" font-weight="bold" text-anchor="middle" fill="#111">V (mV)</text>
<text transform="translate(502.5,460.6) scale(1.0,0.957) rotate(90)" font-size="15.5" fill="#111"><tspan font-weight="bold">Re</tspan>&#955;<tspan font-size="9.8" font-weight="bold" dy="5.2">max</tspan><tspan font-size="16" dy="-5.2">(<tspan dx="1">*</tspan>10</tspan><tspan font-size="10" dy="-7.2">-3</tspan><tspan font-size="16" dx="1" dy="7.2">)</tspan></text>
<circle cx="366" cy="460.2" r="1.9" fill="#000"/>
<circle cx="366" cy="479.4" r="1.9" fill="#e8090f"/>
<text transform="translate(385,465.4) scale(0.92,1)" font-size="15" text-anchor="start" font-weight="normal" fill="#111">V (mV)</text>
<text transform="translate(385,484.6) scale(0.92,1)" font-size="15" fill="#111">Re&#955;<tspan font-size="9" dy="5.6">max</tspan></text>
<text transform="translate(377.8,616.8) scale(0.84,1)" font-size="15" fill="#111">&#945;(&#964;<tspan font-size="9.5" dx="0.8" dy="6">fL</tspan><tspan dx="1.8" dy="-6">)</tspan></text>
</svg>
</body></html>
